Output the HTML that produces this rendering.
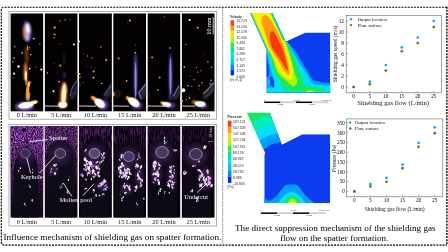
<!DOCTYPE html><html><head><meta charset="utf-8"><title>Graphical abstract</title>
<style>html,body{margin:0;padding:0;background:#fff;overflow:hidden}svg{display:block}</style></head><body>
<svg width="448" height="252" viewBox="0 0 448 252">
<defs>
<filter id="b03" x="-20%" y="-20%" width="140%" height="140%"><feGaussianBlur stdDeviation="0.3"/></filter>
<filter id="b05" x="-30%" y="-30%" width="160%" height="160%"><feGaussianBlur stdDeviation="0.5"/></filter>
<filter id="b08" x="-50%" y="-50%" width="200%" height="200%"><feGaussianBlur stdDeviation="0.8"/></filter>
<filter id="b15" x="-50%" y="-50%" width="200%" height="200%"><feGaussianBlur stdDeviation="1.5"/></filter>
<filter id="b25" x="-50%" y="-50%" width="200%" height="200%"><feGaussianBlur stdDeviation="2.5"/></filter>
<filter id="noise" x="0" y="0" width="100%" height="100%" color-interpolation-filters="sRGB"><feTurbulence type="fractalNoise" baseFrequency="1.1 0.6" numOctaves="2" seed="3" result="t"/><feColorMatrix in="t" type="matrix" values="1.5 0.4 0 0 -0.52  0.8 0.1 0 0 -0.25  1.4 0 0.6 0 -0.47  0 0 0 0 1"/></filter>
<filter id="noise2" x="0" y="0" width="100%" height="100%" color-interpolation-filters="sRGB"><feTurbulence type="fractalNoise" baseFrequency="0.9 0.14" numOctaves="2" seed="11" result="t"/><feColorMatrix in="t" type="matrix" values="2.3 0.5 0 0 -1.00  1.0 0.1 0 0 -0.40  2.1 0 0.9 0 -0.98  0 0 0 0 1"/></filter>
</defs>
<rect width="448" height="252" fill="#fff"/>
<path d="M446.9,7.2 H4.4 Q1.3,7.2 1.3,10.3 V242.0 Q1.3,245.1 4.4,245.1 H446.9" fill="none" stroke="#000" stroke-width="1.15" stroke-dasharray="2 1.1"/>
<line x1="446.9" y1="6.7" x2="446.9" y2="245.6" stroke="#000" stroke-width="1.35" stroke-dasharray="2 1.1"/>
<line x1="222.7" y1="7.8" x2="222.7" y2="244.5" stroke="#444" stroke-width="0.6" stroke-dasharray="1.6 0.7"/>
<rect x="9" y="11.5" width="207.4" height="107.7" fill="#fff" stroke="#8a8a8a" stroke-width="0.7"/>
<rect x="9" y="124.5" width="207.4" height="101.5" fill="#fff" stroke="#8a8a8a" stroke-width="0.7"/>
<clipPath id="ct0"><rect x="10.40" y="13.3" width="33.0" height="98.30"/></clipPath>
<clipPath id="cb0"><rect x="10.40" y="126.0" width="33.0" height="91.80"/></clipPath>
<clipPath id="ct1"><rect x="44.66" y="13.3" width="33.0" height="98.30"/></clipPath>
<clipPath id="cb1"><rect x="44.66" y="126.0" width="33.0" height="91.80"/></clipPath>
<clipPath id="ct2"><rect x="78.92" y="13.3" width="33.0" height="98.30"/></clipPath>
<clipPath id="cb2"><rect x="78.92" y="126.0" width="33.0" height="91.80"/></clipPath>
<clipPath id="ct3"><rect x="113.18" y="13.3" width="33.0" height="98.30"/></clipPath>
<clipPath id="cb3"><rect x="113.18" y="126.0" width="33.0" height="91.80"/></clipPath>
<clipPath id="ct4"><rect x="147.44" y="13.3" width="33.0" height="98.30"/></clipPath>
<clipPath id="cb4"><rect x="147.44" y="126.0" width="33.0" height="91.80"/></clipPath>
<clipPath id="ct5"><rect x="181.70" y="13.3" width="33.0" height="98.30"/></clipPath>
<clipPath id="cb5"><rect x="181.70" y="126.0" width="33.0" height="91.80"/></clipPath>
<g clip-path="url(#ct0)"><rect x="10.4" y="13.3" width="33.0" height="98.30" fill="#030102"/>
<ellipse cx="27.3" cy="31.0" rx="3.6" ry="10" fill="#7a68f0" filter="url(#b15)" opacity="0.9" transform="rotate(-6 27.3 31.0)"/>
<ellipse cx="24.8" cy="33.5" rx="1.4" ry="7" fill="#ff8420" filter="url(#b08)" opacity="1" transform="rotate(-4 24.8 33.5)"/>
<ellipse cx="27.8" cy="28.5" rx="2.3" ry="5.6" fill="#ffffff" filter="url(#b08)" opacity="1" transform="rotate(-8 27.8 28.5)"/>
<ellipse cx="27.3" cy="37.0" rx="1.5" ry="4.5" fill="#d8c8ff" filter="url(#b08)" opacity="1"/>
<ellipse cx="26.6" cy="55.0" rx="1.6" ry="9" fill="#8a3c1a" filter="url(#b08)" opacity="0.95" transform="rotate(-5 26.6 55.0)"/>
<ellipse cx="27.6" cy="48.0" rx="0.8" ry="3" fill="#d07030" filter="url(#b05)" opacity="1"/>
<ellipse cx="26.3" cy="81.0" rx="1.0" ry="5" fill="#ff9a30" filter="url(#b05)" opacity="1" transform="rotate(-8 26.3 81.0)"/>
<ellipse cx="28.6" cy="96.5" rx="1.2" ry="4.5" fill="#ffb040" filter="url(#b05)" opacity="1" transform="rotate(10 28.6 96.5)"/>
<ellipse cx="25.6" cy="72.0" rx="1.7" ry="10" fill="#ff8a20" filter="url(#b08)" opacity="1"/>
<ellipse cx="25.8" cy="75.5" rx="1.1" ry="4.5" fill="#fff2c0" filter="url(#b05)" opacity="1"/>
<ellipse cx="27.6" cy="91.0" rx="1.6" ry="9" fill="#ffa030" filter="url(#b05)" opacity="1" transform="rotate(6 27.6 91.0)"/>
<ellipse cx="29.0" cy="84.0" rx="1.0" ry="3" fill="#ffd080" filter="url(#b05)" opacity="1"/>
<ellipse cx="24.5" cy="106.5" rx="9.5" ry="4.4" fill="#9a70ff" filter="url(#b15)" opacity="0.8"/>
<ellipse cx="31.5" cy="103.0" rx="6" ry="2.0" fill="#ffb848" filter="url(#b05)" opacity="1" transform="rotate(-18 31.5 103.0)"/>
<ellipse cx="26.0" cy="105.3" rx="7.6" ry="3.2" fill="#ffffff" filter="url(#b05)" opacity="1" transform="rotate(-8 26.0 105.3)"/>
<ellipse cx="34.5" cy="102.4" rx="3.2" ry="1.5" fill="#fff0c0" filter="url(#b05)" opacity="1" transform="rotate(-20 34.5 102.4)"/>
<circle cx="33.7" cy="38.6" r="0.9" fill="#ffd060" filter="url(#b05)" opacity="1"/>
<circle cx="39.8" cy="44.1" r="0.7" fill="#c8a070" filter="url(#b05)" opacity="1"/>
<circle cx="14.8" cy="46.7" r="0.8" fill="#ff8a20" filter="url(#b05)" opacity="1"/>
<circle cx="29.7" cy="47.8" r="0.7" fill="#ff8a20" filter="url(#b05)" opacity="1"/>
<circle cx="22.1" cy="53.1" r="0.8" fill="#ffffff" filter="url(#b05)" opacity="1"/>
<circle cx="14.1" cy="58.0" r="0.8" fill="#ffd060" filter="url(#b05)" opacity="1"/>
<circle cx="12.8" cy="61.7" r="0.7" fill="#ff8a20" filter="url(#b05)" opacity="1"/>
<circle cx="30.8" cy="54.8" r="0.8" fill="#ffd060" filter="url(#b05)" opacity="1"/>
<circle cx="18.5" cy="66.5" r="1.2" fill="#ffffff" filter="url(#b05)" opacity="1"/>
<circle cx="29.7" cy="68.6" r="0.9" fill="#ffffff" filter="url(#b05)" opacity="1"/>
<circle cx="35.7" cy="67.0" r="0.6" fill="#c8a070" filter="url(#b05)" opacity="1"/>
<circle cx="41.3" cy="69.4" r="1.0" fill="#ffffff" filter="url(#b05)" opacity="1"/>
<circle cx="14.1" cy="73.7" r="1.1" fill="#ffd8e8" filter="url(#b05)" opacity="1"/>
<circle cx="13.1" cy="77.7" r="0.7" fill="#a04a10" filter="url(#b05)" opacity="1"/>
<circle cx="30.5" cy="82.6" r="0.9" fill="#ff8a20" filter="url(#b05)" opacity="1"/>
</g>
<g clip-path="url(#ct1)"><rect x="44.66" y="13.3" width="33.0" height="98.30" fill="#030102"/>
<path d="M78.5,80 L69.5,96 L72,101 L78.5,92 Z" fill="#26263a" filter="url(#b08)"/>
<path d="M78.3,80 Q72,84 70,96" fill="none" stroke="#56568a" stroke-width="1.1" filter="url(#b05)"/>
<line x1="45" y1="106" x2="61" y2="106.2" stroke="#d8c8d8" stroke-width="1" filter="url(#b05)"/>
<ellipse cx="64.3" cy="58.0" rx="0.9" ry="7" fill="#3a3078" filter="url(#b08)" opacity="0.6"/>
<ellipse cx="64.5" cy="75.0" rx="1.0" ry="3.5" fill="#5a50a8" filter="url(#b08)" opacity="0.7"/>
<ellipse cx="63.6" cy="95.0" rx="3.3" ry="12.5" fill="#ff8a20" filter="url(#b08)" opacity="1" transform="rotate(3 63.6 95.0)"/>
<ellipse cx="65.0" cy="88.0" rx="1.6" ry="6" fill="#ffa030" filter="url(#b05)" opacity="1" transform="rotate(-8 65.0 88.0)"/>
<ellipse cx="63.8" cy="95.0" rx="2.2" ry="10.5" fill="#fff6d0" filter="url(#b05)" opacity="1" transform="rotate(3 63.8 95.0)"/>
<ellipse cx="62.6" cy="104.8" rx="4.8" ry="3.4" fill="#ffb040" filter="url(#b08)" opacity="1"/>
<ellipse cx="62.8" cy="104.8" rx="4.3" ry="3.0" fill="#ffffff" filter="url(#b05)" opacity="1"/>
<circle cx="59.8" cy="20.9" r="0.7" fill="#c8a070" filter="url(#b05)" opacity="1"/>
<circle cx="65.1" cy="20.0" r="0.7" fill="#c8a070" filter="url(#b05)" opacity="1"/>
<circle cx="69.9" cy="19.5" r="0.6" fill="#806848" filter="url(#b05)" opacity="1"/>
<circle cx="54.6" cy="27.4" r="1.2" fill="#ff8a20" filter="url(#b05)" opacity="1"/>
<circle cx="54.6" cy="34.4" r="1.0" fill="#ff8a20" filter="url(#b05)" opacity="1"/>
<circle cx="54.0" cy="37.7" r="0.8" fill="#ff8a20" filter="url(#b05)" opacity="1"/>
<circle cx="59.8" cy="44.1" r="0.7" fill="#a04a10" filter="url(#b05)" opacity="1"/>
<circle cx="73.9" cy="44.6" r="1.0" fill="#fff0b0" filter="url(#b05)" opacity="1"/>
<circle cx="60.3" cy="65.7" r="1.1" fill="#ff8a20" filter="url(#b05)" opacity="1"/>
<circle cx="53.8" cy="63.3" r="0.5" fill="#a04a10" filter="url(#b05)" opacity="1"/>
<circle cx="47.4" cy="72.9" r="0.8" fill="#ff8a20" filter="url(#b05)" opacity="1"/>
<circle cx="57.0" cy="73.7" r="0.5" fill="#a04a10" filter="url(#b05)" opacity="1"/>
<circle cx="59.1" cy="81.8" r="0.8" fill="#fff0b0" filter="url(#b05)" opacity="1"/>
<circle cx="53.5" cy="91.3" r="1.0" fill="#ffffff" filter="url(#b05)" opacity="1"/>
</g>
<g clip-path="url(#ct2)"><rect x="78.92" y="13.3" width="33.0" height="98.30" fill="#030102"/>
<path d="M112.5,82 L103.5,95 L106,100 L112.5,93 Z" fill="#26263a" filter="url(#b08)"/>
<path d="M111,85.5 L104,95.5" stroke="#5a5a8a" stroke-width="1.0" filter="url(#b05)"/>
<line x1="78.5" y1="106" x2="96" y2="106.2" stroke="#d8c8d8" stroke-width="1" filter="url(#b05)"/>
<ellipse cx="103.0" cy="105.0" rx="5" ry="5" fill="#8a60e0" filter="url(#b15)" opacity="0.8"/>
<ellipse cx="94.3" cy="98.8" rx="3.8" ry="2.0" fill="#ffa030" filter="url(#b05)" opacity="1" transform="rotate(35 94.3 98.8)"/>
<ellipse cx="99.6" cy="103.2" rx="6.0" ry="3.9" fill="#ffffff" filter="url(#b05)" opacity="1" transform="rotate(38 99.6 103.2)"/>
<ellipse cx="79.0" cy="84.0" rx="1.5" ry="2.5" fill="#5a3a90" filter="url(#b08)" opacity="0.8"/>
<ellipse cx="110.5" cy="86.0" rx="1.2" ry="2.5" fill="#5a3a90" filter="url(#b08)" opacity="0.7"/>
<circle cx="79.2" cy="41.3" r="0.9" fill="#fff0c0" filter="url(#b05)" opacity="1"/>
<circle cx="100.9" cy="47.0" r="0.8" fill="#ff8a20" filter="url(#b05)" opacity="1"/>
<circle cx="84.0" cy="53.6" r="0.6" fill="#a04a10" filter="url(#b05)" opacity="1"/>
<circle cx="87.6" cy="56.0" r="0.7" fill="#ff8a20" filter="url(#b05)" opacity="1"/>
<circle cx="92.1" cy="58.0" r="0.7" fill="#c8a070" filter="url(#b05)" opacity="1"/>
<circle cx="106.2" cy="60.0" r="1.2" fill="#d06818" filter="url(#b05)" opacity="1"/>
<circle cx="86.0" cy="66.5" r="0.6" fill="#a04a10" filter="url(#b05)" opacity="1"/>
<circle cx="91.3" cy="67.0" r="0.5" fill="#888" filter="url(#b05)" opacity="1"/>
<circle cx="95.0" cy="68.0" r="0.5" fill="#a04a10" filter="url(#b05)" opacity="1"/>
<circle cx="93.7" cy="71.3" r="1.1" fill="#ff8a20" filter="url(#b05)" opacity="1"/>
<circle cx="79.5" cy="74.0" r="1.0" fill="#ffb040" filter="url(#b05)" opacity="1"/>
<circle cx="80.0" cy="77.3" r="0.8" fill="#ff8a20" filter="url(#b05)" opacity="1"/>
<circle cx="93.4" cy="77.7" r="0.9" fill="#ffd060" filter="url(#b05)" opacity="1"/>
<circle cx="101.7" cy="83.4" r="0.7" fill="#ffd8e8" filter="url(#b05)" opacity="1"/>
<circle cx="83.2" cy="82.6" r="0.5" fill="#c8a070" filter="url(#b05)" opacity="1"/>
</g>
<g clip-path="url(#ct3)"><rect x="113.18" y="13.3" width="33.0" height="98.30" fill="#030102"/>
<path d="M146.8,82 L138,93 L141,101 L146.8,95 Z" fill="#26263a" filter="url(#b08)"/>
<path d="M145.8,84.2 L138.8,92.7 L141,98.5" fill="none" stroke="#8078c0" stroke-width="1.1" filter="url(#b05)"/>
<line x1="113" y1="106" x2="129" y2="106.2" stroke="#d8c8d8" stroke-width="1" filter="url(#b05)"/>
<ellipse cx="135.6" cy="76.0" rx="1.5" ry="23" fill="#6254c0" filter="url(#b08)" opacity="1"/>
<ellipse cx="135.6" cy="80.0" rx="0.9" ry="18" fill="#9488e8" filter="url(#b05)" opacity="1"/>
<circle cx="117.2" cy="94" r="2.6" fill="none" stroke="#50301c" stroke-width="1.2" filter="url(#b08)"/>
<ellipse cx="137.0" cy="105.5" rx="5.5" ry="3.5" fill="#8a60e0" filter="url(#b15)" opacity="0.8"/>
<ellipse cx="128.6" cy="98.6" rx="3.2" ry="1.9" fill="#ffa030" filter="url(#b05)" opacity="1" transform="rotate(35 128.6 98.6)"/>
<ellipse cx="133.8" cy="102.2" rx="6.4" ry="3.9" fill="#ffffff" filter="url(#b05)" opacity="1" transform="rotate(35 133.8 102.2)"/>
<ellipse cx="113.6" cy="94.0" rx="0.9" ry="2.2" fill="#ffb860" filter="url(#b05)" opacity="1"/>
<circle cx="129.9" cy="20.5" r="1.0" fill="#ffb040" filter="url(#b05)" opacity="1"/>
<circle cx="127.5" cy="22.5" r="0.5" fill="#a04a10" filter="url(#b05)" opacity="1"/>
<circle cx="135.5" cy="45.0" r="0.9" fill="#30286a" filter="url(#b05)" opacity="1"/>
<circle cx="135.3" cy="52.8" r="0.8" fill="#e8d8ff" filter="url(#b05)" opacity="1"/>
<circle cx="118.6" cy="58.5" r="1.0" fill="#ff8a20" filter="url(#b05)" opacity="1"/>
<circle cx="126.6" cy="81.0" r="0.9" fill="#ff8a20" filter="url(#b05)" opacity="1"/>
</g>
<g clip-path="url(#ct4)"><rect x="147.44" y="13.3" width="33.0" height="98.30" fill="#030102"/>
<path d="M180.5,84 L172.5,97 L175,101 L180.5,95 Z" fill="#26263a" filter="url(#b08)"/>
<path d="M179,85.4 L173.4,96.3" stroke="#7870b8" stroke-width="1.1" filter="url(#b05)"/>
<line x1="147" y1="106" x2="165" y2="106.2" stroke="#d8c8d8" stroke-width="1" filter="url(#b05)"/>
<ellipse cx="170.5" cy="77.0" rx="1.5" ry="24" fill="#6254c0" filter="url(#b08)" opacity="1"/>
<ellipse cx="170.5" cy="76.0" rx="0.9" ry="18" fill="#9488e8" filter="url(#b05)" opacity="1"/>
<ellipse cx="171.0" cy="105.5" rx="4.5" ry="2.8" fill="#8a60e0" filter="url(#b15)" opacity="0.7"/>
<ellipse cx="162.6" cy="103.0" rx="2.4" ry="1.5" fill="#ffa030" filter="url(#b05)" opacity="1" transform="rotate(20 162.6 103.0)"/>
<ellipse cx="166.6" cy="104.4" rx="4.4" ry="2.3" fill="#ffffff" filter="url(#b05)" opacity="1" transform="rotate(12 166.6 104.4)"/>
<path d="M147.5,91 Q150.5,95 148,99" fill="none" stroke="#603018" stroke-width="1" filter="url(#b08)"/>
<circle cx="164.5" cy="16.8" r="0.7" fill="#b04020" filter="url(#b05)" opacity="1"/>
<circle cx="169.8" cy="47.8" r="0.7" fill="#c8a070" filter="url(#b05)" opacity="1"/>
<circle cx="170.1" cy="48.3" r="0.6" fill="#c8a070" filter="url(#b05)" opacity="1"/>
<circle cx="152.1" cy="57.6" r="1.0" fill="#ff8a20" filter="url(#b05)" opacity="1"/>
<circle cx="159.7" cy="77.4" r="0.9" fill="#ff8a20" filter="url(#b05)" opacity="1"/>
<circle cx="158.0" cy="90.0" r="0.7" fill="#ffffff" filter="url(#b05)" opacity="1"/>
</g>
<g clip-path="url(#ct5)"><rect x="181.70" y="13.3" width="33.0" height="98.30" fill="#030102"/>
<path d="M214.8,80 L202,96 L205,100.5 L214.8,91 Z" fill="#282836" filter="url(#b08)"/>
<path d="M214,83 L203.2,94" stroke="#74748a" stroke-width="1.1" filter="url(#b05)"/><path d="M214.5,88 L206,97" stroke="#505064" stroke-width="0.9" filter="url(#b05)"/>
<line x1="181.5" y1="106" x2="195" y2="106.2" stroke="#d8c8d8" stroke-width="1" filter="url(#b05)"/>
<ellipse cx="203.0" cy="106.0" rx="5" ry="2.6" fill="#8a60e0" filter="url(#b15)" opacity="0.6"/>
<ellipse cx="194.6" cy="102.2" rx="2.8" ry="1.6" fill="#ff9a30" filter="url(#b08)" opacity="1" transform="rotate(20 194.6 102.2)"/>
<ellipse cx="200.2" cy="103.9" rx="5.6" ry="3.0" fill="#ffffff" filter="url(#b05)" opacity="1" transform="rotate(5 200.2 103.9)"/>
<circle cx="189.7" cy="20.0" r="1.1" fill="#ffffff" filter="url(#b05)" opacity="1"/>
<circle cx="197.8" cy="27.7" r="0.9" fill="#ffb830" filter="url(#b05)" opacity="1"/>
<circle cx="185.9" cy="44.6" r="0.7" fill="#c8a070" filter="url(#b05)" opacity="1"/>
<circle cx="184.3" cy="67.0" r="0.8" fill="#ffffff" filter="url(#b05)" opacity="1"/>
<circle cx="207.9" cy="62.1" r="0.8" fill="#ff8a20" filter="url(#b05)" opacity="1"/>
<circle cx="211.6" cy="67.3" r="0.8" fill="#ff8a20" filter="url(#b05)" opacity="1"/>
<circle cx="196.6" cy="67.3" r="0.6" fill="#c8a070" filter="url(#b05)" opacity="1"/>
<circle cx="200.7" cy="70.5" r="0.6" fill="#c8a070" filter="url(#b05)" opacity="1"/>
<circle cx="197.8" cy="72.1" r="0.6" fill="#c8a070" filter="url(#b05)" opacity="1"/>
<circle cx="190.2" cy="76.1" r="0.5" fill="#c8a070" filter="url(#b05)" opacity="1"/>
<circle cx="194.2" cy="79.8" r="0.7" fill="#c8a070" filter="url(#b05)" opacity="1"/>
<circle cx="202.0" cy="82.6" r="0.7" fill="#e8d8c0" filter="url(#b05)" opacity="1"/>
<circle cx="211.1" cy="80.2" r="0.7" fill="#ffd060" filter="url(#b05)" opacity="1"/>
<circle cx="188.1" cy="85.8" r="0.7" fill="#e8d8c0" filter="url(#b05)" opacity="1"/>
<circle cx="199.0" cy="85.8" r="0.7" fill="#e8d8c0" filter="url(#b05)" opacity="1"/>
<circle cx="203.0" cy="54.4" r="0.5" fill="#a04a10" filter="url(#b05)" opacity="1"/>
<circle cx="183.3" cy="90.2" r="2.0" fill="#fff0d0" filter="url(#b05)" opacity="1"/>
<circle cx="182.2" cy="101.0" r="1.0" fill="#ff8a20" filter="url(#b05)" opacity="1"/>
<circle cx="191.8" cy="86.5" r="0.6" fill="#c8a070" filter="url(#b05)" opacity="1"/>
<circle cx="189.4" cy="98.0" r="0.7" fill="#ffffff" filter="url(#b05)" opacity="1"/>
<circle cx="186.2" cy="99.7" r="0.6" fill="#c8a070" filter="url(#b05)" opacity="1"/>
<circle cx="199.0" cy="89.2" r="0.6" fill="#a04a10" filter="url(#b05)" opacity="1"/>
<circle cx="201.5" cy="84.0" r="0.5" fill="#a04a10" filter="url(#b05)" opacity="1"/>
<circle cx="210.3" cy="84.0" r="1.2" fill="#5a4890" filter="url(#b05)" opacity="1"/>
<line x1="213.2" y1="17.2" x2="213.2" y2="34.3" stroke="#fff" stroke-width="0.8"/>
<text transform="translate(210.5,26.0) rotate(-90)" text-anchor="middle" font-size="6.2" fill="#fff" font-family="Liberation Serif, serif">10 mm</text>
</g>
<text x="26.9" y="117.4" text-anchor="middle" font-size="6.3" fill="#111" font-family="Liberation Serif, serif">0 L/min</text>
<text x="26.9" y="224.1" text-anchor="middle" font-size="6.3" fill="#111" font-family="Liberation Serif, serif">0 L/min</text>
<text x="61.2" y="117.4" text-anchor="middle" font-size="6.3" fill="#111" font-family="Liberation Serif, serif">5 L/min</text>
<text x="61.2" y="224.1" text-anchor="middle" font-size="6.3" fill="#111" font-family="Liberation Serif, serif">5 L/min</text>
<text x="95.4" y="117.4" text-anchor="middle" font-size="6.3" fill="#111" font-family="Liberation Serif, serif">10 L/min</text>
<text x="95.4" y="224.1" text-anchor="middle" font-size="6.3" fill="#111" font-family="Liberation Serif, serif">10 L/min</text>
<text x="129.7" y="117.4" text-anchor="middle" font-size="6.3" fill="#111" font-family="Liberation Serif, serif">15 L/min</text>
<text x="129.7" y="224.1" text-anchor="middle" font-size="6.3" fill="#111" font-family="Liberation Serif, serif">15 L/min</text>
<text x="163.9" y="117.4" text-anchor="middle" font-size="6.3" fill="#111" font-family="Liberation Serif, serif">20 L/min</text>
<text x="163.9" y="224.1" text-anchor="middle" font-size="6.3" fill="#111" font-family="Liberation Serif, serif">20 L/min</text>
<text x="198.2" y="117.4" text-anchor="middle" font-size="6.3" fill="#111" font-family="Liberation Serif, serif">25 L/min</text>
<text x="198.2" y="224.1" text-anchor="middle" font-size="6.3" fill="#111" font-family="Liberation Serif, serif">25 L/min</text>
<linearGradient id="fade" x1="0" y1="0" x2="0" y2="1"><stop offset="0" stop-color="#fff"/><stop offset="0.2" stop-color="#fff"/><stop offset="0.45" stop-color="#999"/><stop offset="0.7" stop-color="#444"/><stop offset="1" stop-color="#1a1a1a"/></linearGradient>
<mask id="mfade" maskUnits="userSpaceOnUse" x="0" y="126.0" width="230" height="91.8"><rect x="0" y="126.0" width="230" height="91.8" fill="url(#fade)"/></mask>
<g clip-path="url(#cb0)"><rect x="10.40" y="126.0" width="33.0" height="91.80" fill="#050207"/>
<g mask="url(#mfade)"><rect x="10.40" y="126.0" width="33.0" height="91.80" filter="url(#noise)" opacity="0.95"/></g>
<line x1="21.4" y1="171.0" x2="21.4" y2="187.4" stroke="#3a1850" stroke-width="0.6" opacity="0.8"/>
<line x1="13.6" y1="186.4" x2="13.6" y2="198.3" stroke="#3a1850" stroke-width="0.6" opacity="0.8"/>
<line x1="13.2" y1="185.3" x2="13.2" y2="191.9" stroke="#3a1850" stroke-width="0.6" opacity="0.8"/>
<line x1="24.8" y1="167.8" x2="24.8" y2="175.2" stroke="#3a1850" stroke-width="0.6" opacity="0.8"/>
<line x1="24.6" y1="198.1" x2="24.6" y2="206.1" stroke="#3a1850" stroke-width="0.6" opacity="0.8"/>
<line x1="18.3" y1="190.1" x2="18.3" y2="211.3" stroke="#3a1850" stroke-width="0.6" opacity="0.8"/>
<line x1="29.3" y1="180.9" x2="29.3" y2="202.5" stroke="#3a1850" stroke-width="0.6" opacity="0.8"/>
<path d="M13.7,217.8 L13.7,171.5 Q14.2,154.5 27.0,145.5 Q37.2,154.5 37.7,171.5 L37.7,217.8 Z" fill="#0e0714" filter="url(#b05)" opacity="0.9"/>
<ellipse cx="25.4" cy="154.4" rx="9.6" ry="9.6" fill="#3a2252" opacity="0.7" filter="url(#b25)"/>
<ellipse cx="25.4" cy="153.4" rx="4.83" ry="4.37" fill="#3c2e50" stroke="#8070a0" stroke-width="0.8" filter="url(#b03)"/>
<g filter="url(#b03)">
<circle cx="24.1" cy="130" r="2.0" fill="#08040c" filter="url(#b05)"/>
<circle cx="27" cy="142.2" r="1.5" fill="#08040c" filter="url(#b05)"/>
<ellipse cx="18.5" cy="171.1" rx="0.49" ry="0.87" fill="#d898e8" transform="rotate(-32 18.5 171.1)"/>
<ellipse cx="18.8" cy="171.3" rx="0.41" ry="0.86" fill="#ffffff" transform="rotate(6 18.8 171.3)"/>
<ellipse cx="20.6" cy="168.4" rx="0.61" ry="0.69" fill="#ffffff" transform="rotate(29 20.6 168.4)"/>
<ellipse cx="20.4" cy="167.9" rx="0.49" ry="0.84" fill="#f4d8ff" transform="rotate(23 20.4 167.9)"/>
<ellipse cx="19.6" cy="169.6" rx="0.32" ry="0.74" fill="#f4d8ff" transform="rotate(-35 19.6 169.6)"/>
<ellipse cx="32.5" cy="169.3" rx="0.60" ry="0.64" fill="#d898e8" transform="rotate(-15 32.5 169.3)"/>
<ellipse cx="32.7" cy="172.5" rx="0.45" ry="0.97" fill="#ffffff" transform="rotate(23 32.7 172.5)"/>
<ellipse cx="29.7" cy="186.0" rx="0.52" ry="0.37" fill="#ffe8ff" transform="rotate(-14 29.7 186.0)"/>
<ellipse cx="30.3" cy="186.3" rx="0.36" ry="0.62" fill="#d898e8" transform="rotate(-25 30.3 186.3)"/>
<ellipse cx="29.9" cy="187.2" rx="0.31" ry="0.77" fill="#e0a8f0" transform="rotate(-22 29.9 187.2)"/>
<ellipse cx="30.2" cy="186.9" rx="0.53" ry="0.70" fill="#ffffff" transform="rotate(-35 30.2 186.9)"/>
<ellipse cx="29.1" cy="185.1" rx="0.36" ry="0.80" fill="#e0a8f0" transform="rotate(-32 29.1 185.1)"/>
<ellipse cx="32.1" cy="199.9" rx="0.33" ry="1.15" fill="#e0a8f0" transform="rotate(15 32.1 199.9)"/>
<ellipse cx="32.4" cy="200.2" rx="0.59" ry="1.24" fill="#d898e8" transform="rotate(30 32.4 200.2)"/>
<ellipse cx="32.1" cy="200.6" rx="0.35" ry="1.27" fill="#ffe8ff" transform="rotate(-34 32.1 200.6)"/>
<ellipse cx="24.5" cy="203.8" rx="0.62" ry="0.92" fill="#ffffff" transform="rotate(37 24.5 203.8)"/>
<ellipse cx="25.9" cy="205.2" rx="0.45" ry="0.46" fill="#ffe8ff" transform="rotate(49 25.9 205.2)"/>
<ellipse cx="25.0" cy="204.9" rx="0.31" ry="0.45" fill="#f4d8ff" transform="rotate(24 25.0 204.9)"/>
</g>
</g>
<g clip-path="url(#cb1)"><rect x="44.66" y="126.0" width="33.0" height="91.80" fill="#050207"/>
<g mask="url(#mfade)"><rect x="44.66" y="126.0" width="33.0" height="91.80" filter="url(#noise)" opacity="0.68"/></g>
<line x1="60.5" y1="192.7" x2="60.5" y2="206.9" stroke="#3a1850" stroke-width="0.6" opacity="0.8"/>
<line x1="52.0" y1="203.1" x2="52.0" y2="214.9" stroke="#3a1850" stroke-width="0.6" opacity="0.8"/>
<line x1="67.1" y1="201.6" x2="67.1" y2="219.7" stroke="#3a1850" stroke-width="0.6" opacity="0.8"/>
<line x1="54.9" y1="190.7" x2="54.9" y2="198.2" stroke="#3a1850" stroke-width="0.6" opacity="0.8"/>
<line x1="71.9" y1="185.7" x2="71.9" y2="206.3" stroke="#3a1850" stroke-width="0.6" opacity="0.8"/>
<line x1="56.7" y1="173.9" x2="56.7" y2="188.6" stroke="#3a1850" stroke-width="0.6" opacity="0.8"/>
<line x1="61.2" y1="190.5" x2="61.2" y2="206.3" stroke="#3a1850" stroke-width="0.6" opacity="0.8"/>
<path d="M46.5,217.8 L46.5,160.0 C46.5,147.0 52.8,140.0 60.5,140.0 C68.2,140.0 74.5,147.0 74.5,160.0 L74.5,217.8 Z" fill="#0e0714" filter="url(#b08)" opacity="0.9"/>
<ellipse cx="60.3" cy="154.4" rx="10.0" ry="10.0" fill="#3a2252" opacity="0.7" filter="url(#b25)"/>
<ellipse cx="60.3" cy="153.4" rx="5.25" ry="4.75" fill="#3e3056" stroke="#a090b8" stroke-width="0.8" filter="url(#b03)"/>
<g filter="url(#b03)">
<ellipse cx="53.0" cy="169.5" rx="4.5" ry="6.5" fill="#7a3a98" opacity="0.35" filter="url(#b15)"/>
<ellipse cx="55.6" cy="173.1" rx="0.62" ry="0.64" fill="#e0a8f0" transform="rotate(-1 55.6 173.1)"/>
<ellipse cx="55.5" cy="173.5" rx="0.64" ry="0.89" fill="#ffffff" transform="rotate(19 55.5 173.5)"/>
<ellipse cx="57.1" cy="168.6" rx="0.41" ry="0.64" fill="#ffffff" transform="rotate(-16 57.1 168.6)"/>
<ellipse cx="56.2" cy="170.1" rx="0.56" ry="0.40" fill="#d898e8" transform="rotate(-16 56.2 170.1)"/>
<ellipse cx="54.8" cy="173.9" rx="0.62" ry="0.90" fill="#ffffff" transform="rotate(-7 54.8 173.9)"/>
<ellipse cx="53.9" cy="165.5" rx="0.35" ry="0.57" fill="#ffffff" transform="rotate(-47 53.9 165.5)"/>
<ellipse cx="54.1" cy="164.9" rx="0.58" ry="1.04" fill="#e0a8f0" transform="rotate(48 54.1 164.9)"/>
<ellipse cx="54.3" cy="164.6" rx="0.54" ry="0.54" fill="#ffffff" transform="rotate(30 54.3 164.6)"/>
<ellipse cx="54.5" cy="166.0" rx="0.65" ry="0.62" fill="#f4d8ff" transform="rotate(-29 54.5 166.0)"/>
<ellipse cx="54.6" cy="165.8" rx="0.45" ry="0.97" fill="#ffffff" transform="rotate(-44 54.6 165.8)"/>
<ellipse cx="55.3" cy="174.8" rx="0.37" ry="0.56" fill="#e0a8f0" transform="rotate(-48 55.3 174.8)"/>
<ellipse cx="54.6" cy="173.1" rx="0.32" ry="1.23" fill="#ffffff" transform="rotate(-36 54.6 173.1)"/>
<ellipse cx="54.9" cy="173.0" rx="0.34" ry="1.11" fill="#e0a8f0" transform="rotate(6 54.9 173.0)"/>
<ellipse cx="54.5" cy="164.6" rx="0.63" ry="0.93" fill="#e0a8f0" transform="rotate(-47 54.5 164.6)"/>
<ellipse cx="56.0" cy="164.7" rx="0.52" ry="1.12" fill="#ffe8ff" transform="rotate(1 56.0 164.7)"/>
<ellipse cx="56.4" cy="164.7" rx="0.42" ry="0.94" fill="#f4d8ff" transform="rotate(42 56.4 164.7)"/>
<ellipse cx="55.0" cy="165.3" rx="0.50" ry="0.48" fill="#ffffff" transform="rotate(-7 55.0 165.3)"/>
<ellipse cx="55.2" cy="165.8" rx="0.37" ry="1.21" fill="#d898e8" transform="rotate(14 55.2 165.8)"/>
<ellipse cx="55.5" cy="165.6" rx="0.37" ry="0.89" fill="#d898e8" transform="rotate(45 55.5 165.6)"/>
<ellipse cx="51.6" cy="169.2" rx="0.53" ry="0.75" fill="#ffffff" transform="rotate(-14 51.6 169.2)"/>
<ellipse cx="51.5" cy="169.0" rx="0.46" ry="0.88" fill="#d898e8" transform="rotate(-48 51.5 169.0)"/>
<ellipse cx="51.0" cy="171.9" rx="0.41" ry="1.31" fill="#ffffff" transform="rotate(-23 51.0 171.9)"/>
<ellipse cx="68.6" cy="180.1" rx="0.59" ry="0.99" fill="#f4d8ff" transform="rotate(-9 68.6 180.1)"/>
<ellipse cx="68.2" cy="179.4" rx="0.48" ry="0.69" fill="#f4d8ff" transform="rotate(-44 68.2 179.4)"/>
<ellipse cx="69.6" cy="177.1" rx="0.35" ry="0.63" fill="#e0a8f0" transform="rotate(36 69.6 177.1)"/>
<ellipse cx="60.2" cy="187.8" rx="0.45" ry="1.21" fill="#e0a8f0" transform="rotate(-37 60.2 187.8)"/>
<ellipse cx="61.2" cy="186.0" rx="0.36" ry="0.54" fill="#ffffff" transform="rotate(-32 61.2 186.0)"/>
<ellipse cx="62.0" cy="186.9" rx="0.49" ry="0.58" fill="#ffe8ff" transform="rotate(0 62.0 186.9)"/>
<ellipse cx="62.3" cy="183.9" rx="0.33" ry="0.84" fill="#ffffff" transform="rotate(1 62.3 183.9)"/>
<ellipse cx="67.3" cy="192.3" rx="0.60" ry="1.25" fill="#f4d8ff" transform="rotate(19 67.3 192.3)"/>
<ellipse cx="67.9" cy="191.9" rx="0.59" ry="1.02" fill="#d898e8" transform="rotate(-36 67.9 191.9)"/>
<ellipse cx="68.0" cy="193.4" rx="0.59" ry="0.41" fill="#d898e8" transform="rotate(24 68.0 193.4)"/>
<ellipse cx="67.4" cy="190.5" rx="0.48" ry="1.25" fill="#e0a8f0" transform="rotate(-26 67.4 190.5)"/>
</g>
</g>
<g clip-path="url(#cb2)"><rect x="78.92" y="126.0" width="33.0" height="91.80" fill="#050207"/>
<g mask="url(#mfade)"><rect x="78.92" y="126.0" width="33.0" height="91.80" filter="url(#noise2)" opacity="0.36"/></g>
<line x1="89.0" y1="183.4" x2="89.0" y2="191.9" stroke="#3a1850" stroke-width="0.6" opacity="0.8"/>
<line x1="93.7" y1="175.5" x2="93.7" y2="196.9" stroke="#3a1850" stroke-width="0.6" opacity="0.8"/>
<line x1="110.1" y1="186.9" x2="110.1" y2="196.8" stroke="#3a1850" stroke-width="0.6" opacity="0.8"/>
<line x1="109.9" y1="177.4" x2="109.9" y2="189.1" stroke="#3a1850" stroke-width="0.6" opacity="0.8"/>
<line x1="80.0" y1="180.3" x2="80.0" y2="193.9" stroke="#3a1850" stroke-width="0.6" opacity="0.8"/>
<line x1="95.5" y1="173.0" x2="95.5" y2="187.1" stroke="#3a1850" stroke-width="0.6" opacity="0.8"/>
<line x1="80.1" y1="175.6" x2="80.1" y2="183.0" stroke="#3a1850" stroke-width="0.6" opacity="0.8"/>
<path d="M80.5,217.8 L80.5,158.0 C80.5,145.0 87.0,138.0 95.0,138.0 C103.0,138.0 109.5,145.0 109.5,158.0 L109.5,217.8 Z" fill="#0e0714" filter="url(#b08)" opacity="0.9"/>
<ellipse cx="94.5" cy="154.4" rx="10.2" ry="10.2" fill="#3a2252" opacity="0.7" filter="url(#b25)"/>
<ellipse cx="94.5" cy="153.4" rx="5.46" ry="4.94" fill="#584674" stroke="#b8a8d0" stroke-width="0.8" filter="url(#b03)"/>
<g filter="url(#b03)">
<ellipse cx="85.2" cy="150.8" rx="0.43" ry="1.55" fill="#ffffff" transform="rotate(16 85.2 150.8)"/>
<ellipse cx="87.4" cy="161.1" rx="0.60" ry="0.81" fill="#e0a8f0" transform="rotate(14 87.4 161.1)"/>
<ellipse cx="86.0" cy="161.4" rx="0.76" ry="1.19" fill="#d898e8" transform="rotate(20 86.0 161.4)"/>
<ellipse cx="86.9" cy="161.5" rx="0.70" ry="1.13" fill="#ffffff" transform="rotate(33 86.9 161.5)"/>
<ellipse cx="85.5" cy="159.6" rx="0.65" ry="1.56" fill="#ffe8ff" transform="rotate(34 85.5 159.6)"/>
<ellipse cx="86.5" cy="161.0" rx="0.65" ry="1.25" fill="#ffe8ff" transform="rotate(-24 86.5 161.0)"/>
<ellipse cx="86.1" cy="149.8" rx="0.69" ry="0.78" fill="#ffffff" transform="rotate(35 86.1 149.8)"/>
<ellipse cx="85.4" cy="160.2" rx="0.60" ry="0.92" fill="#ffe8ff" transform="rotate(41 85.4 160.2)"/>
<ellipse cx="84.5" cy="158.0" rx="0.65" ry="0.72" fill="#e0a8f0" transform="rotate(-35 84.5 158.0)"/>
<ellipse cx="85.3" cy="158.0" rx="0.59" ry="1.03" fill="#d898e8" transform="rotate(-40 85.3 158.0)"/>
<ellipse cx="84.5" cy="158.9" rx="0.68" ry="0.81" fill="#ffe8ff" transform="rotate(-3 84.5 158.9)"/>
<ellipse cx="84.1" cy="159.7" rx="0.59" ry="0.82" fill="#ffffff" transform="rotate(32 84.1 159.7)"/>
<ellipse cx="85.4" cy="160.6" rx="0.51" ry="0.73" fill="#ffffff" transform="rotate(-43 85.4 160.6)"/>
<ellipse cx="101.4" cy="161.8" rx="0.73" ry="1.06" fill="#ffffff" transform="rotate(20 101.4 161.8)"/>
<ellipse cx="99.9" cy="163.7" rx="0.59" ry="0.53" fill="#ffffff" transform="rotate(45 99.9 163.7)"/>
<ellipse cx="103.2" cy="158.0" rx="0.45" ry="0.86" fill="#f4d8ff" transform="rotate(25 103.2 158.0)"/>
<ellipse cx="104.1" cy="157.4" rx="0.77" ry="1.28" fill="#d898e8" transform="rotate(-21 104.1 157.4)"/>
<ellipse cx="101.6" cy="157.9" rx="0.51" ry="0.55" fill="#ffffff" transform="rotate(-45 101.6 157.9)"/>
<ellipse cx="102.8" cy="160.7" rx="0.60" ry="0.71" fill="#f4d8ff" transform="rotate(29 102.8 160.7)"/>
<ellipse cx="103.2" cy="160.1" rx="0.70" ry="0.94" fill="#e0a8f0" transform="rotate(5 103.2 160.1)"/>
<ellipse cx="103.5" cy="154.2" rx="0.66" ry="0.81" fill="#ffffff" transform="rotate(41 103.5 154.2)"/>
<ellipse cx="103.7" cy="152.9" rx="0.57" ry="0.81" fill="#f4d8ff" transform="rotate(24 103.7 152.9)"/>
<ellipse cx="104.6" cy="153.1" rx="0.66" ry="0.83" fill="#e0a8f0" transform="rotate(17 104.6 153.1)"/>
<ellipse cx="100.0" cy="162.3" rx="0.60" ry="0.74" fill="#f4d8ff" transform="rotate(50 100.0 162.3)"/>
<ellipse cx="101.7" cy="154.0" rx="0.62" ry="0.85" fill="#f4d8ff" transform="rotate(-24 101.7 154.0)"/>
<ellipse cx="102.4" cy="155.7" rx="0.70" ry="0.95" fill="#ffe8ff" transform="rotate(25 102.4 155.7)"/>
<ellipse cx="85.7" cy="167.0" rx="0.57" ry="1.37" fill="#e0a8f0" transform="rotate(13 85.7 167.0)"/>
<ellipse cx="91.7" cy="165.6" rx="0.71" ry="1.04" fill="#f4d8ff" transform="rotate(35 91.7 165.6)"/>
<ellipse cx="91.6" cy="164.7" rx="0.42" ry="1.39" fill="#ffe8ff" transform="rotate(47 91.6 164.7)"/>
<ellipse cx="88.9" cy="162.7" rx="0.45" ry="0.69" fill="#e0a8f0" transform="rotate(47 88.9 162.7)"/>
<ellipse cx="87.1" cy="164.1" rx="0.74" ry="1.57" fill="#ffe8ff" transform="rotate(-41 87.1 164.1)"/>
<ellipse cx="88.5" cy="162.1" rx="0.46" ry="1.22" fill="#ffffff" transform="rotate(15 88.5 162.1)"/>
<ellipse cx="86.5" cy="164.2" rx="0.77" ry="0.63" fill="#f4d8ff" transform="rotate(2 86.5 164.2)"/>
<ellipse cx="86.6" cy="164.0" rx="0.51" ry="1.26" fill="#ffffff" transform="rotate(4 86.6 164.0)"/>
<ellipse cx="92.3" cy="167.9" rx="0.63" ry="0.80" fill="#ffffff" transform="rotate(-47 92.3 167.9)"/>
<ellipse cx="91.8" cy="167.4" rx="0.43" ry="0.74" fill="#d898e8" transform="rotate(15 91.8 167.4)"/>
<ellipse cx="85.5" cy="165.4" rx="0.42" ry="0.93" fill="#ffe8ff" transform="rotate(-14 85.5 165.4)"/>
<ellipse cx="84.4" cy="164.9" rx="0.54" ry="1.56" fill="#ffffff" transform="rotate(-29 84.4 164.9)"/>
<ellipse cx="85.6" cy="165.6" rx="0.79" ry="0.79" fill="#ffffff" transform="rotate(-23 85.6 165.6)"/>
<ellipse cx="91.3" cy="164.9" rx="0.63" ry="1.65" fill="#ffffff" transform="rotate(45 91.3 164.9)"/>
<ellipse cx="90.4" cy="163.7" rx="0.50" ry="1.73" fill="#ffffff" transform="rotate(-8 90.4 163.7)"/>
<ellipse cx="91.5" cy="163.2" rx="0.62" ry="1.40" fill="#f4d8ff" transform="rotate(23 91.5 163.2)"/>
<ellipse cx="91.4" cy="179.1" rx="0.65" ry="1.09" fill="#f4d8ff" transform="rotate(16 91.4 179.1)"/>
<ellipse cx="91.7" cy="178.5" rx="0.56" ry="0.71" fill="#ffffff" transform="rotate(-42 91.7 178.5)"/>
<ellipse cx="92.5" cy="169.0" rx="7.5" ry="8.0" fill="#7a3a98" opacity="0.35" filter="url(#b15)"/>
<ellipse cx="87.2" cy="168.5" rx="0.64" ry="1.71" fill="#f4d8ff" transform="rotate(32 87.2 168.5)"/>
<ellipse cx="91.0" cy="162.8" rx="0.69" ry="1.01" fill="#d898e8" transform="rotate(40 91.0 162.8)"/>
<ellipse cx="90.7" cy="162.5" rx="0.92" ry="1.71" fill="#ffffff" transform="rotate(-12 90.7 162.5)"/>
<ellipse cx="91.5" cy="163.4" rx="0.44" ry="0.81" fill="#ffffff" transform="rotate(40 91.5 163.4)"/>
<ellipse cx="89.9" cy="166.3" rx="0.60" ry="0.94" fill="#ffffff" transform="rotate(22 89.9 166.3)"/>
<ellipse cx="92.8" cy="172.6" rx="0.70" ry="2.01" fill="#ffe8ff" transform="rotate(29 92.8 172.6)"/>
<ellipse cx="98.7" cy="172.6" rx="0.91" ry="1.67" fill="#d898e8" transform="rotate(27 98.7 172.6)"/>
<ellipse cx="98.1" cy="173.0" rx="0.60" ry="1.07" fill="#e0a8f0" transform="rotate(-42 98.1 173.0)"/>
<ellipse cx="88.4" cy="172.9" rx="0.71" ry="1.36" fill="#ffffff" transform="rotate(48 88.4 172.9)"/>
<ellipse cx="89.3" cy="173.7" rx="0.57" ry="0.63" fill="#ffffff" transform="rotate(-8 89.3 173.7)"/>
<ellipse cx="98.3" cy="175.4" rx="0.80" ry="1.57" fill="#d898e8" transform="rotate(4 98.3 175.4)"/>
<ellipse cx="99.4" cy="176.2" rx="0.90" ry="0.96" fill="#f4d8ff" transform="rotate(7 99.4 176.2)"/>
<ellipse cx="90.7" cy="171.6" rx="0.55" ry="0.94" fill="#e0a8f0" transform="rotate(-31 90.7 171.6)"/>
<ellipse cx="90.0" cy="171.7" rx="0.56" ry="1.33" fill="#d898e8" transform="rotate(31 90.0 171.7)"/>
<ellipse cx="93.5" cy="176.8" rx="0.55" ry="1.21" fill="#f4d8ff" transform="rotate(-46 93.5 176.8)"/>
<ellipse cx="90.0" cy="164.5" rx="0.52" ry="0.62" fill="#e0a8f0" transform="rotate(37 90.0 164.5)"/>
<ellipse cx="89.7" cy="163.1" rx="0.90" ry="1.99" fill="#ffffff" transform="rotate(14 89.7 163.1)"/>
<ellipse cx="95.0" cy="166.0" rx="0.53" ry="0.90" fill="#e0a8f0" transform="rotate(23 95.0 166.0)"/>
<ellipse cx="97.7" cy="173.1" rx="0.80" ry="0.62" fill="#ffffff" transform="rotate(30 97.7 173.1)"/>
<ellipse cx="98.0" cy="172.4" rx="0.46" ry="1.12" fill="#e0a8f0" transform="rotate(-35 98.0 172.4)"/>
<ellipse cx="93.3" cy="170.9" rx="0.58" ry="0.99" fill="#ffffff" transform="rotate(-19 93.3 170.9)"/>
<ellipse cx="93.1" cy="170.8" rx="0.67" ry="1.87" fill="#f4d8ff" transform="rotate(14 93.1 170.8)"/>
<ellipse cx="92.7" cy="170.9" rx="1.00" ry="1.19" fill="#ffffff" transform="rotate(-8 92.7 170.9)"/>
<ellipse cx="96.6" cy="166.9" rx="0.41" ry="1.37" fill="#d898e8" transform="rotate(31 96.6 166.9)"/>
<ellipse cx="96.5" cy="167.9" rx="0.99" ry="1.66" fill="#ffffff" transform="rotate(-35 96.5 167.9)"/>
<ellipse cx="88.9" cy="169.3" rx="0.92" ry="2.03" fill="#ffffff" transform="rotate(-20 88.9 169.3)"/>
<ellipse cx="96.5" cy="162.9" rx="0.81" ry="0.64" fill="#d898e8" transform="rotate(12 96.5 162.9)"/>
<ellipse cx="97.5" cy="161.8" rx="0.90" ry="0.85" fill="#ffe8ff" transform="rotate(11 97.5 161.8)"/>
<ellipse cx="96.3" cy="162.5" rx="0.76" ry="0.57" fill="#e0a8f0" transform="rotate(-34 96.3 162.5)"/>
<ellipse cx="89.8" cy="164.2" rx="0.88" ry="0.56" fill="#f4d8ff" transform="rotate(-38 89.8 164.2)"/>
<ellipse cx="90.9" cy="164.2" rx="0.80" ry="0.98" fill="#ffe8ff" transform="rotate(-19 90.9 164.2)"/>
<ellipse cx="89.1" cy="167.3" rx="0.41" ry="1.48" fill="#ffe8ff" transform="rotate(-3 89.1 167.3)"/>
<ellipse cx="89.1" cy="167.7" rx="0.92" ry="1.82" fill="#ffe8ff" transform="rotate(-10 89.1 167.7)"/>
<ellipse cx="86.1" cy="166.9" rx="0.73" ry="0.56" fill="#d898e8" transform="rotate(-37 86.1 166.9)"/>
<ellipse cx="87.7" cy="166.6" rx="0.86" ry="0.63" fill="#e0a8f0" transform="rotate(39 87.7 166.6)"/>
<ellipse cx="95.2" cy="174.2" rx="0.87" ry="1.79" fill="#ffffff" transform="rotate(-37 95.2 174.2)"/>
<ellipse cx="97.9" cy="166.6" rx="0.54" ry="1.82" fill="#e0a8f0" transform="rotate(26 97.9 166.6)"/>
<ellipse cx="96.8" cy="167.0" rx="0.58" ry="1.79" fill="#ffffff" transform="rotate(-25 96.8 167.0)"/>
<ellipse cx="98.8" cy="168.1" rx="0.64" ry="0.81" fill="#ffe8ff" transform="rotate(-34 98.8 168.1)"/>
<ellipse cx="99.4" cy="169.2" rx="0.97" ry="0.77" fill="#f4d8ff" transform="rotate(-38 99.4 169.2)"/>
<ellipse cx="93.8" cy="170.8" rx="0.73" ry="1.59" fill="#ffffff" transform="rotate(-25 93.8 170.8)"/>
<ellipse cx="93.0" cy="171.8" rx="0.87" ry="1.09" fill="#ffe8ff" transform="rotate(49 93.0 171.8)"/>
<ellipse cx="93.4" cy="166.3" rx="0.88" ry="0.58" fill="#e0a8f0" transform="rotate(-25 93.4 166.3)"/>
<ellipse cx="94.8" cy="176.4" rx="0.54" ry="0.96" fill="#d898e8" transform="rotate(-7 94.8 176.4)"/>
<ellipse cx="94.3" cy="176.7" rx="0.48" ry="0.86" fill="#d898e8" transform="rotate(-45 94.3 176.7)"/>
<ellipse cx="85.9" cy="169.6" rx="0.54" ry="1.42" fill="#e0a8f0" transform="rotate(-37 85.9 169.6)"/>
<ellipse cx="86.4" cy="170.7" rx="0.50" ry="0.52" fill="#ffffff" transform="rotate(21 86.4 170.7)"/>
<ellipse cx="102.5" cy="185.5" rx="5.5" ry="5.5" fill="#7a3a98" opacity="0.35" filter="url(#b15)"/>
<ellipse cx="102.8" cy="182.3" rx="0.63" ry="0.88" fill="#ffffff" transform="rotate(-44 102.8 182.3)"/>
<ellipse cx="102.7" cy="182.5" rx="0.73" ry="1.32" fill="#e0a8f0" transform="rotate(44 102.7 182.5)"/>
<ellipse cx="103.7" cy="183.3" rx="0.63" ry="0.84" fill="#ffffff" transform="rotate(41 103.7 183.3)"/>
<ellipse cx="98.2" cy="185.8" rx="0.74" ry="1.22" fill="#d898e8" transform="rotate(-8 98.2 185.8)"/>
<ellipse cx="99.2" cy="186.5" rx="0.44" ry="1.39" fill="#d898e8" transform="rotate(28 99.2 186.5)"/>
<ellipse cx="104.9" cy="181.0" rx="0.82" ry="1.14" fill="#ffffff" transform="rotate(50 104.9 181.0)"/>
<ellipse cx="104.0" cy="181.4" rx="0.47" ry="1.77" fill="#d898e8" transform="rotate(44 104.0 181.4)"/>
<ellipse cx="104.0" cy="180.0" rx="0.76" ry="1.46" fill="#d898e8" transform="rotate(29 104.0 180.0)"/>
<ellipse cx="101.9" cy="183.4" rx="0.50" ry="1.78" fill="#d898e8" transform="rotate(-30 101.9 183.4)"/>
<ellipse cx="102.0" cy="184.4" rx="0.51" ry="1.05" fill="#e0a8f0" transform="rotate(-26 102.0 184.4)"/>
<ellipse cx="106.1" cy="186.7" rx="0.40" ry="0.54" fill="#d898e8" transform="rotate(-27 106.1 186.7)"/>
<ellipse cx="106.9" cy="187.4" rx="0.62" ry="1.33" fill="#e0a8f0" transform="rotate(41 106.9 187.4)"/>
<ellipse cx="105.5" cy="185.5" rx="0.46" ry="1.82" fill="#f4d8ff" transform="rotate(48 105.5 185.5)"/>
<ellipse cx="104.7" cy="181.6" rx="0.79" ry="1.55" fill="#ffffff" transform="rotate(36 104.7 181.6)"/>
<ellipse cx="104.8" cy="180.6" rx="0.93" ry="1.26" fill="#d898e8" transform="rotate(-43 104.8 180.6)"/>
<ellipse cx="105.0" cy="188.5" rx="0.46" ry="0.55" fill="#d898e8" transform="rotate(-41 105.0 188.5)"/>
<ellipse cx="106.3" cy="189.5" rx="0.67" ry="0.69" fill="#d898e8" transform="rotate(-30 106.3 189.5)"/>
<ellipse cx="105.4" cy="189.0" rx="0.41" ry="0.86" fill="#f4d8ff" transform="rotate(-45 105.4 189.0)"/>
<ellipse cx="105.5" cy="189.5" rx="0.42" ry="1.09" fill="#ffe8ff" transform="rotate(2 105.5 189.5)"/>
<ellipse cx="104.0" cy="189.1" rx="0.43" ry="1.30" fill="#d898e8" transform="rotate(36 104.0 189.1)"/>
<ellipse cx="104.0" cy="190.0" rx="0.50" ry="0.50" fill="#ffffff" transform="rotate(-21 104.0 190.0)"/>
<ellipse cx="104.7" cy="181.5" rx="0.85" ry="0.76" fill="#ffe8ff" transform="rotate(9 104.7 181.5)"/>
<ellipse cx="105.7" cy="181.5" rx="0.72" ry="0.73" fill="#ffffff" transform="rotate(44 105.7 181.5)"/>
<ellipse cx="100.1" cy="183.7" rx="0.71" ry="0.65" fill="#f4d8ff" transform="rotate(-14 100.1 183.7)"/>
<ellipse cx="101.5" cy="184.9" rx="0.61" ry="0.93" fill="#ffe8ff" transform="rotate(40 101.5 184.9)"/>
<ellipse cx="103.4" cy="183.5" rx="0.73" ry="1.48" fill="#e0a8f0" transform="rotate(15 103.4 183.5)"/>
<ellipse cx="102.2" cy="184.0" rx="0.49" ry="1.70" fill="#d898e8" transform="rotate(5 102.2 184.0)"/>
<ellipse cx="101.1" cy="184.3" rx="0.66" ry="1.76" fill="#ffffff" transform="rotate(1 101.1 184.3)"/>
<ellipse cx="100.4" cy="185.8" rx="0.86" ry="1.38" fill="#d898e8" transform="rotate(-34 100.4 185.8)"/>
<ellipse cx="82.8" cy="176.1" rx="0.40" ry="1.41" fill="#d898e8" transform="rotate(49 82.8 176.1)"/>
<ellipse cx="82.8" cy="176.9" rx="0.40" ry="0.56" fill="#ffffff" transform="rotate(29 82.8 176.9)"/>
<ellipse cx="85.6" cy="179.7" rx="0.43" ry="1.32" fill="#ffe8ff" transform="rotate(-47 85.6 179.7)"/>
<ellipse cx="86.2" cy="179.4" rx="0.60" ry="0.92" fill="#d898e8" transform="rotate(-20 86.2 179.4)"/>
<ellipse cx="81.1" cy="174.5" rx="0.66" ry="1.13" fill="#e0a8f0" transform="rotate(25 81.1 174.5)"/>
<ellipse cx="82.0" cy="174.5" rx="0.61" ry="1.32" fill="#d898e8" transform="rotate(20 82.0 174.5)"/>
<ellipse cx="82.8" cy="175.6" rx="0.58" ry="0.87" fill="#f4d8ff" transform="rotate(-24 82.8 175.6)"/>
<ellipse cx="86.8" cy="188.4" rx="0.57" ry="0.66" fill="#ffe8ff" transform="rotate(-2 86.8 188.4)"/>
<ellipse cx="85.2" cy="188.8" rx="0.53" ry="1.09" fill="#ffffff" transform="rotate(39 85.2 188.8)"/>
<ellipse cx="84.8" cy="169.3" rx="0.42" ry="0.63" fill="#d898e8" transform="rotate(28 84.8 169.3)"/>
<ellipse cx="84.8" cy="170.3" rx="0.36" ry="1.00" fill="#e0a8f0" transform="rotate(-30 84.8 170.3)"/>
<ellipse cx="83.9" cy="169.1" rx="0.64" ry="0.78" fill="#f4d8ff" transform="rotate(-9 83.9 169.1)"/>
<ellipse cx="87.5" cy="174.8" rx="0.37" ry="1.42" fill="#f4d8ff" transform="rotate(14 87.5 174.8)"/>
<ellipse cx="87.2" cy="173.9" rx="0.34" ry="0.48" fill="#ffe8ff" transform="rotate(13 87.2 173.9)"/>
<ellipse cx="99.5" cy="195.5" rx="0.70" ry="0.95" fill="#ffffff" transform="rotate(49 99.5 195.5)"/>
<ellipse cx="102.8" cy="194.2" rx="0.64" ry="1.06" fill="#ffe8ff" transform="rotate(14 102.8 194.2)"/>
<ellipse cx="104.0" cy="194.3" rx="0.38" ry="1.09" fill="#ffe8ff" transform="rotate(-3 104.0 194.3)"/>
<ellipse cx="96.1" cy="194.5" rx="0.63" ry="0.64" fill="#d898e8" transform="rotate(-12 96.1 194.5)"/>
<ellipse cx="95.0" cy="194.4" rx="0.39" ry="0.40" fill="#d898e8" transform="rotate(30 95.0 194.4)"/>
<ellipse cx="96.3" cy="195.7" rx="0.57" ry="1.09" fill="#f4d8ff" transform="rotate(-35 96.3 195.7)"/>
<ellipse cx="95.9" cy="195.6" rx="0.35" ry="0.99" fill="#f4d8ff" transform="rotate(28 95.9 195.6)"/>
<ellipse cx="94.0" cy="197.3" rx="0.35" ry="0.70" fill="#e0a8f0" transform="rotate(-40 94.0 197.3)"/>
<ellipse cx="93.4" cy="190.0" rx="0.68" ry="1.22" fill="#ffffff" transform="rotate(11 93.4 190.0)"/>
<ellipse cx="94.1" cy="191.9" rx="0.36" ry="1.34" fill="#e0a8f0" transform="rotate(29 94.1 191.9)"/>
<ellipse cx="94.4" cy="190.1" rx="0.60" ry="0.95" fill="#d898e8" transform="rotate(34 94.4 190.1)"/>
</g>
</g>
<g clip-path="url(#cb3)"><rect x="113.18" y="126.0" width="33.0" height="91.80" fill="#050207"/>
<g mask="url(#mfade)"><rect x="113.18" y="126.0" width="33.0" height="91.80" filter="url(#noise2)" opacity="0.27"/></g>
<line x1="135.0" y1="169.7" x2="135.0" y2="177.6" stroke="#3a1850" stroke-width="0.6" opacity="0.8"/>
<line x1="127.2" y1="198.1" x2="127.2" y2="211.7" stroke="#3a1850" stroke-width="0.6" opacity="0.8"/>
<line x1="131.5" y1="184.4" x2="131.5" y2="204.9" stroke="#3a1850" stroke-width="0.6" opacity="0.8"/>
<line x1="135.9" y1="174.9" x2="135.9" y2="183.5" stroke="#3a1850" stroke-width="0.6" opacity="0.8"/>
<line x1="132.8" y1="194.4" x2="132.8" y2="202.9" stroke="#3a1850" stroke-width="0.6" opacity="0.8"/>
<line x1="124.1" y1="192.8" x2="124.1" y2="206.8" stroke="#3a1850" stroke-width="0.6" opacity="0.8"/>
<line x1="123.4" y1="183.6" x2="123.4" y2="196.4" stroke="#3a1850" stroke-width="0.6" opacity="0.8"/>
<path d="M115.0,217.8 L115.0,160.0 C115.0,147.0 121.5,140.0 129.5,140.0 C137.5,140.0 144.0,147.0 144.0,160.0 L144.0,217.8 Z" fill="#0e0714" filter="url(#b08)" opacity="0.9"/>
<ellipse cx="128.7" cy="157.6" rx="10.2" ry="10.2" fill="#3a2252" opacity="0.7" filter="url(#b25)"/>
<ellipse cx="128.7" cy="156.6" rx="5.46" ry="4.94" fill="#483862" stroke="#a898c0" stroke-width="0.8" filter="url(#b03)"/>
<g filter="url(#b03)">
<ellipse cx="124.2" cy="171.0" rx="6.8" ry="8.0" fill="#7a3a98" opacity="0.35" filter="url(#b15)"/>
<ellipse cx="130.3" cy="173.8" rx="0.42" ry="1.46" fill="#d898e8" transform="rotate(24 130.3 173.8)"/>
<ellipse cx="131.0" cy="174.2" rx="0.46" ry="1.26" fill="#ffffff" transform="rotate(-47 131.0 174.2)"/>
<ellipse cx="125.9" cy="173.1" rx="0.62" ry="1.73" fill="#e0a8f0" transform="rotate(27 125.9 173.1)"/>
<ellipse cx="126.2" cy="172.6" rx="0.67" ry="1.38" fill="#f4d8ff" transform="rotate(-21 126.2 172.6)"/>
<ellipse cx="128.8" cy="169.3" rx="0.53" ry="1.28" fill="#ffffff" transform="rotate(-17 128.8 169.3)"/>
<ellipse cx="127.7" cy="169.2" rx="0.78" ry="1.50" fill="#ffffff" transform="rotate(-10 127.7 169.2)"/>
<ellipse cx="124.7" cy="168.7" rx="0.43" ry="1.80" fill="#ffe8ff" transform="rotate(11 124.7 168.7)"/>
<ellipse cx="126.3" cy="175.4" rx="0.85" ry="1.44" fill="#d898e8" transform="rotate(-42 126.3 175.4)"/>
<ellipse cx="125.1" cy="175.4" rx="0.80" ry="0.77" fill="#d898e8" transform="rotate(-32 125.1 175.4)"/>
<ellipse cx="125.1" cy="175.7" rx="0.99" ry="1.54" fill="#f4d8ff" transform="rotate(37 125.1 175.7)"/>
<ellipse cx="120.8" cy="167.6" rx="0.42" ry="0.53" fill="#e0a8f0" transform="rotate(14 120.8 167.6)"/>
<ellipse cx="121.0" cy="167.3" rx="0.76" ry="0.56" fill="#ffffff" transform="rotate(27 121.0 167.3)"/>
<ellipse cx="123.2" cy="172.6" rx="0.65" ry="1.44" fill="#d898e8" transform="rotate(48 123.2 172.6)"/>
<ellipse cx="123.3" cy="173.5" rx="0.47" ry="1.52" fill="#ffffff" transform="rotate(40 123.3 173.5)"/>
<ellipse cx="123.6" cy="173.6" rx="0.41" ry="1.56" fill="#ffffff" transform="rotate(-28 123.6 173.6)"/>
<ellipse cx="120.3" cy="170.0" rx="0.87" ry="0.80" fill="#ffffff" transform="rotate(-13 120.3 170.0)"/>
<ellipse cx="120.4" cy="171.1" rx="0.49" ry="1.70" fill="#f4d8ff" transform="rotate(13 120.4 171.1)"/>
<ellipse cx="127.5" cy="169.4" rx="0.42" ry="0.60" fill="#d898e8" transform="rotate(19 127.5 169.4)"/>
<ellipse cx="126.9" cy="170.2" rx="0.60" ry="1.45" fill="#ffe8ff" transform="rotate(11 126.9 170.2)"/>
<ellipse cx="122.1" cy="176.5" rx="1.02" ry="0.68" fill="#d898e8" transform="rotate(-34 122.1 176.5)"/>
<ellipse cx="122.7" cy="177.2" rx="0.90" ry="1.22" fill="#f4d8ff" transform="rotate(28 122.7 177.2)"/>
<ellipse cx="122.3" cy="176.8" rx="0.44" ry="2.04" fill="#d898e8" transform="rotate(30 122.3 176.8)"/>
<ellipse cx="126.1" cy="176.4" rx="0.60" ry="1.18" fill="#ffffff" transform="rotate(-12 126.1 176.4)"/>
<ellipse cx="127.0" cy="171.9" rx="0.40" ry="0.92" fill="#ffe8ff" transform="rotate(-34 127.0 171.9)"/>
<ellipse cx="127.2" cy="173.1" rx="0.90" ry="0.96" fill="#ffffff" transform="rotate(31 127.2 173.1)"/>
<ellipse cx="129.4" cy="172.7" rx="0.75" ry="1.73" fill="#ffe8ff" transform="rotate(-15 129.4 172.7)"/>
<ellipse cx="127.6" cy="172.1" rx="0.91" ry="0.82" fill="#d898e8" transform="rotate(43 127.6 172.1)"/>
<ellipse cx="121.1" cy="171.8" rx="0.56" ry="1.69" fill="#ffe8ff" transform="rotate(-4 121.1 171.8)"/>
<ellipse cx="120.4" cy="173.2" rx="0.89" ry="0.87" fill="#e0a8f0" transform="rotate(2 120.4 173.2)"/>
<ellipse cx="120.7" cy="173.3" rx="0.61" ry="1.30" fill="#ffffff" transform="rotate(-31 120.7 173.3)"/>
<ellipse cx="120.4" cy="166.7" rx="0.66" ry="1.32" fill="#ffffff" transform="rotate(-25 120.4 166.7)"/>
<ellipse cx="121.6" cy="166.5" rx="0.95" ry="1.09" fill="#ffe8ff" transform="rotate(29 121.6 166.5)"/>
<ellipse cx="119.9" cy="172.6" rx="0.46" ry="0.82" fill="#e0a8f0" transform="rotate(-1 119.9 172.6)"/>
<ellipse cx="120.4" cy="171.8" rx="0.90" ry="1.17" fill="#ffe8ff" transform="rotate(27 120.4 171.8)"/>
<ellipse cx="128.6" cy="177.1" rx="1.04" ry="1.10" fill="#ffffff" transform="rotate(-45 128.6 177.1)"/>
<ellipse cx="128.0" cy="178.4" rx="0.69" ry="2.00" fill="#ffffff" transform="rotate(36 128.0 178.4)"/>
<ellipse cx="125.4" cy="177.1" rx="0.81" ry="2.01" fill="#d898e8" transform="rotate(1 125.4 177.1)"/>
<ellipse cx="121.5" cy="177.1" rx="0.54" ry="0.56" fill="#f4d8ff" transform="rotate(44 121.5 177.1)"/>
<ellipse cx="119.7" cy="176.0" rx="0.42" ry="1.95" fill="#f4d8ff" transform="rotate(29 119.7 176.0)"/>
<ellipse cx="125.8" cy="172.2" rx="0.88" ry="1.98" fill="#d898e8" transform="rotate(25 125.8 172.2)"/>
<ellipse cx="126.8" cy="172.9" rx="0.82" ry="1.24" fill="#f4d8ff" transform="rotate(-24 126.8 172.9)"/>
<ellipse cx="125.9" cy="173.0" rx="0.51" ry="0.88" fill="#ffffff" transform="rotate(41 125.9 173.0)"/>
<ellipse cx="129.4" cy="169.7" rx="0.93" ry="0.62" fill="#e0a8f0" transform="rotate(37 129.4 169.7)"/>
<ellipse cx="129.5" cy="169.7" rx="0.69" ry="0.65" fill="#ffe8ff" transform="rotate(34 129.5 169.7)"/>
<ellipse cx="125.4" cy="169.7" rx="0.47" ry="1.08" fill="#f4d8ff" transform="rotate(-28 125.4 169.7)"/>
<ellipse cx="124.8" cy="170.8" rx="0.75" ry="0.73" fill="#ffffff" transform="rotate(-23 124.8 170.8)"/>
<ellipse cx="123.4" cy="165.7" rx="0.91" ry="0.91" fill="#ffffff" transform="rotate(-18 123.4 165.7)"/>
<ellipse cx="124.0" cy="165.3" rx="1.03" ry="0.59" fill="#d898e8" transform="rotate(43 124.0 165.3)"/>
<ellipse cx="124.5" cy="175.0" rx="0.63" ry="2.07" fill="#ffffff" transform="rotate(43 124.5 175.0)"/>
<ellipse cx="118.7" cy="168.6" rx="0.59" ry="2.05" fill="#ffffff" transform="rotate(-6 118.7 168.6)"/>
<ellipse cx="119.6" cy="168.1" rx="0.68" ry="1.75" fill="#e0a8f0" transform="rotate(-21 119.6 168.1)"/>
<ellipse cx="122.1" cy="164.7" rx="0.49" ry="0.78" fill="#ffffff" transform="rotate(21 122.1 164.7)"/>
<ellipse cx="122.0" cy="163.6" rx="0.46" ry="1.46" fill="#ffe8ff" transform="rotate(26 122.0 163.6)"/>
<ellipse cx="122.0" cy="163.7" rx="0.83" ry="1.49" fill="#ffffff" transform="rotate(8 122.0 163.7)"/>
<ellipse cx="138.8" cy="176.0" rx="3.8" ry="13.0" fill="#7a3a98" opacity="0.35" filter="url(#b15)"/>
<ellipse cx="137.8" cy="166.6" rx="0.69" ry="0.99" fill="#f4d8ff" transform="rotate(34 137.8 166.6)"/>
<ellipse cx="137.8" cy="165.6" rx="0.41" ry="1.79" fill="#ffe8ff" transform="rotate(-37 137.8 165.6)"/>
<ellipse cx="137.4" cy="165.0" rx="0.72" ry="1.90" fill="#ffffff" transform="rotate(-34 137.4 165.0)"/>
<ellipse cx="137.8" cy="179.3" rx="0.94" ry="0.60" fill="#f4d8ff" transform="rotate(21 137.8 179.3)"/>
<ellipse cx="141.0" cy="185.7" rx="0.72" ry="1.78" fill="#f4d8ff" transform="rotate(37 141.0 185.7)"/>
<ellipse cx="141.4" cy="184.8" rx="0.69" ry="1.25" fill="#e0a8f0" transform="rotate(-37 141.4 184.8)"/>
<ellipse cx="136.7" cy="165.7" rx="0.71" ry="1.86" fill="#ffffff" transform="rotate(-40 136.7 165.7)"/>
<ellipse cx="137.7" cy="165.4" rx="0.41" ry="1.35" fill="#e0a8f0" transform="rotate(-4 137.7 165.4)"/>
<ellipse cx="138.1" cy="175.2" rx="0.43" ry="0.67" fill="#ffe8ff" transform="rotate(9 138.1 175.2)"/>
<ellipse cx="137.8" cy="173.7" rx="0.47" ry="1.76" fill="#e0a8f0" transform="rotate(9 137.8 173.7)"/>
<ellipse cx="141.2" cy="166.7" rx="0.86" ry="1.83" fill="#ffe8ff" transform="rotate(19 141.2 166.7)"/>
<ellipse cx="140.9" cy="167.8" rx="0.42" ry="1.88" fill="#ffffff" transform="rotate(28 140.9 167.8)"/>
<ellipse cx="140.4" cy="166.9" rx="0.59" ry="1.12" fill="#e0a8f0" transform="rotate(30 140.4 166.9)"/>
<ellipse cx="140.7" cy="182.7" rx="0.78" ry="1.00" fill="#ffe8ff" transform="rotate(16 140.7 182.7)"/>
<ellipse cx="135.2" cy="166.5" rx="0.68" ry="0.53" fill="#ffffff" transform="rotate(-8 135.2 166.5)"/>
<ellipse cx="135.9" cy="167.8" rx="0.65" ry="0.57" fill="#ffffff" transform="rotate(-47 135.9 167.8)"/>
<ellipse cx="139.8" cy="171.1" rx="0.42" ry="0.64" fill="#ffffff" transform="rotate(2 139.8 171.1)"/>
<ellipse cx="139.4" cy="171.5" rx="0.56" ry="0.93" fill="#d898e8" transform="rotate(-33 139.4 171.5)"/>
<ellipse cx="135.5" cy="187.2" rx="0.92" ry="1.12" fill="#e0a8f0" transform="rotate(-37 135.5 187.2)"/>
<ellipse cx="135.9" cy="186.8" rx="0.56" ry="0.85" fill="#ffffff" transform="rotate(24 135.9 186.8)"/>
<ellipse cx="137.9" cy="174.2" rx="0.80" ry="1.15" fill="#e0a8f0" transform="rotate(-20 137.9 174.2)"/>
<ellipse cx="137.5" cy="175.7" rx="0.42" ry="0.97" fill="#ffffff" transform="rotate(1 137.5 175.7)"/>
<ellipse cx="139.0" cy="177.2" rx="0.93" ry="0.96" fill="#f4d8ff" transform="rotate(-1 139.0 177.2)"/>
<ellipse cx="136.7" cy="186.6" rx="0.71" ry="1.36" fill="#f4d8ff" transform="rotate(-6 136.7 186.6)"/>
<ellipse cx="136.7" cy="187.4" rx="0.65" ry="1.54" fill="#ffffff" transform="rotate(2 136.7 187.4)"/>
<ellipse cx="141.3" cy="180.7" rx="0.48" ry="0.79" fill="#e0a8f0" transform="rotate(35 141.3 180.7)"/>
<ellipse cx="142.1" cy="180.3" rx="0.81" ry="1.56" fill="#ffe8ff" transform="rotate(-23 142.1 180.3)"/>
<ellipse cx="139.3" cy="178.2" rx="0.63" ry="1.28" fill="#ffffff" transform="rotate(-0 139.3 178.2)"/>
<ellipse cx="140.4" cy="179.3" rx="0.63" ry="1.61" fill="#e0a8f0" transform="rotate(11 140.4 179.3)"/>
<ellipse cx="137.7" cy="174.5" rx="0.60" ry="1.25" fill="#e0a8f0" transform="rotate(-12 137.7 174.5)"/>
<ellipse cx="137.7" cy="175.5" rx="0.88" ry="1.21" fill="#ffe8ff" transform="rotate(-20 137.7 175.5)"/>
<ellipse cx="138.2" cy="175.6" rx="0.64" ry="1.04" fill="#ffffff" transform="rotate(-41 138.2 175.6)"/>
<ellipse cx="122.6" cy="155.2" rx="0.49" ry="1.35" fill="#ffffff" transform="rotate(-47 122.6 155.2)"/>
<ellipse cx="121.2" cy="156.8" rx="0.44" ry="0.96" fill="#f4d8ff" transform="rotate(4 121.2 156.8)"/>
<ellipse cx="121.8" cy="157.9" rx="0.56" ry="0.77" fill="#ffffff" transform="rotate(18 121.8 157.9)"/>
<ellipse cx="122.0" cy="157.2" rx="0.47" ry="0.82" fill="#e0a8f0" transform="rotate(43 122.0 157.2)"/>
<ellipse cx="121.3" cy="157.5" rx="0.49" ry="0.82" fill="#e0a8f0" transform="rotate(40 121.3 157.5)"/>
<ellipse cx="119.7" cy="159.9" rx="0.71" ry="1.26" fill="#e0a8f0" transform="rotate(-32 119.7 159.9)"/>
<ellipse cx="121.3" cy="156.7" rx="0.68" ry="0.84" fill="#ffffff" transform="rotate(2 121.3 156.7)"/>
<ellipse cx="121.3" cy="154.8" rx="0.68" ry="0.83" fill="#ffffff" transform="rotate(13 121.3 154.8)"/>
<ellipse cx="138.8" cy="153.1" rx="0.32" ry="1.14" fill="#e0a8f0" transform="rotate(-50 138.8 153.1)"/>
<ellipse cx="137.6" cy="159.4" rx="0.52" ry="0.98" fill="#f4d8ff" transform="rotate(37 137.6 159.4)"/>
<ellipse cx="139.7" cy="156.0" rx="0.37" ry="0.56" fill="#e0a8f0" transform="rotate(-39 139.7 156.0)"/>
<ellipse cx="138.8" cy="155.4" rx="0.53" ry="1.26" fill="#e0a8f0" transform="rotate(-7 138.8 155.4)"/>
<ellipse cx="138.5" cy="157.2" rx="0.43" ry="0.43" fill="#d898e8" transform="rotate(-40 138.5 157.2)"/>
<ellipse cx="140.0" cy="158.0" rx="0.46" ry="0.87" fill="#ffe8ff" transform="rotate(-48 140.0 158.0)"/>
<ellipse cx="127.0" cy="189.0" rx="5.0" ry="6.0" fill="#7a3a98" opacity="0.35" filter="url(#b15)"/>
<ellipse cx="124.6" cy="188.2" rx="0.52" ry="0.56" fill="#e0a8f0" transform="rotate(35 124.6 188.2)"/>
<ellipse cx="125.1" cy="193.2" rx="0.86" ry="1.12" fill="#ffffff" transform="rotate(-26 125.1 193.2)"/>
<ellipse cx="125.3" cy="193.5" rx="0.51" ry="0.89" fill="#d898e8" transform="rotate(-2 125.3 193.5)"/>
<ellipse cx="126.1" cy="192.4" rx="0.48" ry="0.95" fill="#ffffff" transform="rotate(-49 126.1 192.4)"/>
<ellipse cx="129.3" cy="188.0" rx="0.59" ry="1.01" fill="#ffffff" transform="rotate(46 129.3 188.0)"/>
<ellipse cx="129.9" cy="189.0" rx="0.67" ry="0.99" fill="#ffe8ff" transform="rotate(-22 129.9 189.0)"/>
<ellipse cx="124.6" cy="183.5" rx="0.74" ry="0.62" fill="#f4d8ff" transform="rotate(4 124.6 183.5)"/>
<ellipse cx="130.0" cy="190.3" rx="0.48" ry="0.94" fill="#d898e8" transform="rotate(-9 130.0 190.3)"/>
<ellipse cx="129.6" cy="189.7" rx="0.54" ry="1.10" fill="#ffffff" transform="rotate(-27 129.6 189.7)"/>
<ellipse cx="129.2" cy="188.7" rx="0.74" ry="0.83" fill="#ffe8ff" transform="rotate(9 129.2 188.7)"/>
<ellipse cx="125.2" cy="187.1" rx="0.73" ry="0.62" fill="#f4d8ff" transform="rotate(24 125.2 187.1)"/>
<ellipse cx="126.5" cy="185.3" rx="0.74" ry="0.68" fill="#ffffff" transform="rotate(-11 126.5 185.3)"/>
<ellipse cx="123.3" cy="186.2" rx="0.45" ry="1.21" fill="#f4d8ff" transform="rotate(31 123.3 186.2)"/>
<ellipse cx="124.2" cy="185.0" rx="0.74" ry="0.61" fill="#f4d8ff" transform="rotate(-37 124.2 185.0)"/>
<ellipse cx="129.4" cy="186.7" rx="0.70" ry="1.29" fill="#ffffff" transform="rotate(44 129.4 186.7)"/>
<ellipse cx="128.1" cy="186.5" rx="0.78" ry="1.37" fill="#ffe8ff" transform="rotate(-47 128.1 186.5)"/>
<ellipse cx="129.1" cy="186.7" rx="0.88" ry="1.00" fill="#d898e8" transform="rotate(-40 129.1 186.7)"/>
<ellipse cx="125.8" cy="185.6" rx="0.42" ry="0.70" fill="#ffffff" transform="rotate(26 125.8 185.6)"/>
<ellipse cx="124.6" cy="187.3" rx="0.67" ry="1.29" fill="#ffffff" transform="rotate(6 124.6 187.3)"/>
<ellipse cx="123.2" cy="197.4" rx="0.50" ry="1.22" fill="#ffffff" transform="rotate(33 123.2 197.4)"/>
<ellipse cx="122.9" cy="196.5" rx="0.33" ry="1.15" fill="#e0a8f0" transform="rotate(20 122.9 196.5)"/>
<ellipse cx="143.9" cy="198.8" rx="0.61" ry="1.06" fill="#ffffff" transform="rotate(-8 143.9 198.8)"/>
<ellipse cx="136.4" cy="203.0" rx="0.62" ry="0.77" fill="#f4d8ff" transform="rotate(19 136.4 203.0)"/>
<ellipse cx="137.3" cy="204.8" rx="0.52" ry="0.80" fill="#ffffff" transform="rotate(18 137.3 204.8)"/>
<ellipse cx="121.7" cy="198.7" rx="0.62" ry="1.13" fill="#e0a8f0" transform="rotate(-24 121.7 198.7)"/>
<ellipse cx="121.9" cy="200.6" rx="0.52" ry="0.88" fill="#ffffff" transform="rotate(46 121.9 200.6)"/>
<ellipse cx="120.1" cy="194.4" rx="0.36" ry="1.02" fill="#d898e8" transform="rotate(-2 120.1 194.4)"/>
<ellipse cx="135.0" cy="190.4" rx="0.54" ry="0.52" fill="#d898e8" transform="rotate(-36 135.0 190.4)"/>
<ellipse cx="135.9" cy="189.7" rx="0.58" ry="0.88" fill="#ffffff" transform="rotate(18 135.9 189.7)"/>
<ellipse cx="135.1" cy="191.2" rx="0.59" ry="0.76" fill="#ffffff" transform="rotate(-39 135.1 191.2)"/>
</g>
</g>
<g clip-path="url(#cb4)"><rect x="147.44" y="126.0" width="33.0" height="91.80" fill="#050207"/>
<g mask="url(#mfade)"><rect x="147.44" y="126.0" width="33.0" height="91.80" filter="url(#noise2)" opacity="0.21"/></g>
<line x1="157.4" y1="179.4" x2="157.4" y2="188.7" stroke="#3a1850" stroke-width="0.6" opacity="0.8"/>
<line x1="150.3" y1="176.2" x2="150.3" y2="185.4" stroke="#3a1850" stroke-width="0.6" opacity="0.8"/>
<line x1="170.2" y1="182.9" x2="170.2" y2="190.7" stroke="#3a1850" stroke-width="0.6" opacity="0.8"/>
<line x1="158.5" y1="183.7" x2="158.5" y2="195.6" stroke="#3a1850" stroke-width="0.6" opacity="0.8"/>
<line x1="153.7" y1="167.9" x2="153.7" y2="174.0" stroke="#3a1850" stroke-width="0.6" opacity="0.8"/>
<line x1="179.2" y1="195.0" x2="179.2" y2="202.4" stroke="#3a1850" stroke-width="0.6" opacity="0.8"/>
<line x1="170.7" y1="204.2" x2="170.7" y2="219.2" stroke="#3a1850" stroke-width="0.6" opacity="0.8"/>
<path d="M148.5,217.8 L148.5,159.0 C148.5,146.0 155.0,139.0 163.0,139.0 C171.0,139.0 177.5,146.0 177.5,159.0 L177.5,217.8 Z" fill="#0e0714" filter="url(#b08)" opacity="0.9"/>
<ellipse cx="162.1" cy="153.2" rx="11.0" ry="11.0" fill="#3a2252" opacity="0.7" filter="url(#b25)"/>
<ellipse cx="162.1" cy="152.2" rx="6.30" ry="5.70" fill="#483862" stroke="#a898c0" stroke-width="0.8" filter="url(#b03)"/>
<g filter="url(#b03)">
<ellipse cx="164.2" cy="141.1" rx="0.45" ry="0.77" fill="#ffffff" transform="rotate(14 164.2 141.1)"/>
<ellipse cx="164.5" cy="141.5" rx="0.58" ry="0.66" fill="#ffffff" transform="rotate(-42 164.5 141.5)"/>
<ellipse cx="164.7" cy="139.3" rx="0.48" ry="0.55" fill="#f4d8ff" transform="rotate(-31 164.7 139.3)"/>
<ellipse cx="164.5" cy="143.4" rx="0.44" ry="1.04" fill="#ffe8ff" transform="rotate(-32 164.5 143.4)"/>
<ellipse cx="165.9" cy="142.5" rx="0.47" ry="0.97" fill="#f4d8ff" transform="rotate(34 165.9 142.5)"/>
<ellipse cx="164.6" cy="137.7" rx="0.65" ry="1.13" fill="#ffffff" transform="rotate(44 164.6 137.7)"/>
<ellipse cx="176.7" cy="150.2" rx="0.57" ry="0.55" fill="#ffffff" transform="rotate(-34 176.7 150.2)"/>
<ellipse cx="175.6" cy="151.1" rx="0.36" ry="0.44" fill="#ffe8ff" transform="rotate(-2 175.6 151.1)"/>
<ellipse cx="175.7" cy="150.3" rx="0.63" ry="0.84" fill="#f4d8ff" transform="rotate(-43 175.7 150.3)"/>
<ellipse cx="173.8" cy="149.7" rx="0.70" ry="0.58" fill="#d898e8" transform="rotate(-34 173.8 149.7)"/>
<ellipse cx="174.2" cy="150.7" rx="0.55" ry="0.76" fill="#ffffff" transform="rotate(-3 174.2 150.7)"/>
<ellipse cx="156.5" cy="173.0" rx="5.0" ry="12.0" fill="#7a3a98" opacity="0.35" filter="url(#b15)"/>
<ellipse cx="157.8" cy="174.4" rx="0.95" ry="2.04" fill="#e0a8f0" transform="rotate(12 157.8 174.4)"/>
<ellipse cx="157.5" cy="172.3" rx="0.83" ry="1.46" fill="#f4d8ff" transform="rotate(7 157.5 172.3)"/>
<ellipse cx="156.7" cy="173.1" rx="0.82" ry="0.72" fill="#f4d8ff" transform="rotate(3 156.7 173.1)"/>
<ellipse cx="157.9" cy="180.5" rx="0.45" ry="1.54" fill="#f4d8ff" transform="rotate(5 157.9 180.5)"/>
<ellipse cx="158.5" cy="180.3" rx="0.55" ry="1.20" fill="#f4d8ff" transform="rotate(-39 158.5 180.3)"/>
<ellipse cx="153.4" cy="182.4" rx="0.82" ry="0.80" fill="#d898e8" transform="rotate(-25 153.4 182.4)"/>
<ellipse cx="156.5" cy="174.7" rx="0.87" ry="1.94" fill="#e0a8f0" transform="rotate(-42 156.5 174.7)"/>
<ellipse cx="156.2" cy="173.2" rx="0.68" ry="1.86" fill="#e0a8f0" transform="rotate(1 156.2 173.2)"/>
<ellipse cx="159.1" cy="183.3" rx="0.75" ry="2.03" fill="#ffffff" transform="rotate(6 159.1 183.3)"/>
<ellipse cx="158.5" cy="163.9" rx="0.43" ry="1.61" fill="#ffffff" transform="rotate(-4 158.5 163.9)"/>
<ellipse cx="153.7" cy="165.9" rx="0.76" ry="1.95" fill="#f4d8ff" transform="rotate(-33 153.7 165.9)"/>
<ellipse cx="159.1" cy="168.6" rx="0.64" ry="1.66" fill="#f4d8ff" transform="rotate(22 159.1 168.6)"/>
<ellipse cx="152.6" cy="174.9" rx="0.79" ry="0.55" fill="#d898e8" transform="rotate(-26 152.6 174.9)"/>
<ellipse cx="156.0" cy="177.5" rx="0.47" ry="0.53" fill="#ffffff" transform="rotate(-43 156.0 177.5)"/>
<ellipse cx="155.3" cy="165.7" rx="0.94" ry="1.43" fill="#f4d8ff" transform="rotate(4 155.3 165.7)"/>
<ellipse cx="154.9" cy="166.0" rx="1.01" ry="0.52" fill="#f4d8ff" transform="rotate(49 154.9 166.0)"/>
<ellipse cx="157.0" cy="171.5" rx="0.52" ry="1.79" fill="#d898e8" transform="rotate(10 157.0 171.5)"/>
<ellipse cx="159.0" cy="184.2" rx="0.79" ry="0.62" fill="#f4d8ff" transform="rotate(3 159.0 184.2)"/>
<ellipse cx="158.9" cy="182.4" rx="0.80" ry="0.83" fill="#f4d8ff" transform="rotate(23 158.9 182.4)"/>
<ellipse cx="158.9" cy="183.2" rx="1.00" ry="1.00" fill="#f4d8ff" transform="rotate(8 158.9 183.2)"/>
<ellipse cx="155.9" cy="162.7" rx="0.80" ry="1.65" fill="#ffffff" transform="rotate(-23 155.9 162.7)"/>
<ellipse cx="154.7" cy="162.5" rx="0.57" ry="1.40" fill="#e0a8f0" transform="rotate(8 154.7 162.5)"/>
<ellipse cx="154.4" cy="162.9" rx="0.99" ry="1.93" fill="#ffffff" transform="rotate(37 154.4 162.9)"/>
<ellipse cx="158.4" cy="175.4" rx="0.91" ry="1.88" fill="#ffffff" transform="rotate(18 158.4 175.4)"/>
<ellipse cx="154.9" cy="179.1" rx="0.62" ry="1.37" fill="#ffe8ff" transform="rotate(-17 154.9 179.1)"/>
<ellipse cx="155.3" cy="179.2" rx="0.97" ry="1.74" fill="#e0a8f0" transform="rotate(-13 155.3 179.2)"/>
<ellipse cx="153.7" cy="166.5" rx="0.97" ry="1.56" fill="#ffe8ff" transform="rotate(-5 153.7 166.5)"/>
<ellipse cx="154.6" cy="166.7" rx="0.51" ry="0.60" fill="#f4d8ff" transform="rotate(22 154.6 166.7)"/>
<ellipse cx="153.7" cy="173.8" rx="0.99" ry="1.42" fill="#f4d8ff" transform="rotate(8 153.7 173.8)"/>
<ellipse cx="155.5" cy="174.2" rx="0.90" ry="1.18" fill="#ffffff" transform="rotate(34 155.5 174.2)"/>
<ellipse cx="155.1" cy="166.5" rx="0.80" ry="0.87" fill="#ffffff" transform="rotate(-28 155.1 166.5)"/>
<ellipse cx="154.9" cy="165.1" rx="0.79" ry="1.87" fill="#d898e8" transform="rotate(-40 154.9 165.1)"/>
<ellipse cx="154.6" cy="162.2" rx="0.92" ry="1.88" fill="#f4d8ff" transform="rotate(22 154.6 162.2)"/>
<ellipse cx="153.4" cy="162.7" rx="0.81" ry="0.52" fill="#f4d8ff" transform="rotate(42 153.4 162.7)"/>
<ellipse cx="154.5" cy="169.0" rx="0.83" ry="1.03" fill="#ffffff" transform="rotate(36 154.5 169.0)"/>
<ellipse cx="159.4" cy="165.1" rx="0.66" ry="1.99" fill="#ffffff" transform="rotate(-47 159.4 165.1)"/>
<ellipse cx="158.5" cy="164.3" rx="0.60" ry="1.16" fill="#d898e8" transform="rotate(22 158.5 164.3)"/>
<ellipse cx="171.8" cy="177.5" rx="4.2" ry="13.5" fill="#7a3a98" opacity="0.35" filter="url(#b15)"/>
<ellipse cx="170.1" cy="167.4" rx="0.87" ry="1.01" fill="#f4d8ff" transform="rotate(-8 170.1 167.4)"/>
<ellipse cx="170.7" cy="167.5" rx="0.71" ry="1.43" fill="#e0a8f0" transform="rotate(7 170.7 167.5)"/>
<ellipse cx="170.5" cy="181.1" rx="0.57" ry="1.60" fill="#d898e8" transform="rotate(-5 170.5 181.1)"/>
<ellipse cx="169.6" cy="180.5" rx="0.93" ry="0.69" fill="#ffffff" transform="rotate(6 169.6 180.5)"/>
<ellipse cx="169.2" cy="181.2" rx="0.95" ry="0.71" fill="#d898e8" transform="rotate(-27 169.2 181.2)"/>
<ellipse cx="173.7" cy="166.3" rx="0.70" ry="0.79" fill="#ffffff" transform="rotate(-24 173.7 166.3)"/>
<ellipse cx="173.2" cy="184.3" rx="0.84" ry="1.25" fill="#f4d8ff" transform="rotate(28 173.2 184.3)"/>
<ellipse cx="171.9" cy="184.6" rx="0.68" ry="1.40" fill="#f4d8ff" transform="rotate(40 171.9 184.6)"/>
<ellipse cx="170.2" cy="170.9" rx="0.44" ry="1.42" fill="#ffe8ff" transform="rotate(17 170.2 170.9)"/>
<ellipse cx="170.6" cy="171.7" rx="0.93" ry="1.39" fill="#ffffff" transform="rotate(-47 170.6 171.7)"/>
<ellipse cx="169.8" cy="171.2" rx="0.54" ry="1.00" fill="#f4d8ff" transform="rotate(26 169.8 171.2)"/>
<ellipse cx="171.1" cy="170.2" rx="0.96" ry="0.81" fill="#e0a8f0" transform="rotate(29 171.1 170.2)"/>
<ellipse cx="172.5" cy="187.5" rx="0.57" ry="0.63" fill="#ffffff" transform="rotate(-1 172.5 187.5)"/>
<ellipse cx="172.4" cy="187.5" rx="0.78" ry="1.35" fill="#ffe8ff" transform="rotate(-29 172.4 187.5)"/>
<ellipse cx="167.9" cy="185.2" rx="0.65" ry="1.12" fill="#ffffff" transform="rotate(49 167.9 185.2)"/>
<ellipse cx="168.4" cy="183.4" rx="0.46" ry="1.88" fill="#ffffff" transform="rotate(-37 168.4 183.4)"/>
<ellipse cx="169.7" cy="176.8" rx="0.78" ry="0.63" fill="#f4d8ff" transform="rotate(14 169.7 176.8)"/>
<ellipse cx="170.8" cy="177.3" rx="0.59" ry="1.77" fill="#e0a8f0" transform="rotate(-27 170.8 177.3)"/>
<ellipse cx="172.9" cy="182.5" rx="0.72" ry="1.49" fill="#d898e8" transform="rotate(-48 172.9 182.5)"/>
<ellipse cx="174.2" cy="172.9" rx="0.48" ry="1.11" fill="#ffffff" transform="rotate(-28 174.2 172.9)"/>
<ellipse cx="172.1" cy="181.6" rx="0.94" ry="0.61" fill="#ffffff" transform="rotate(35 172.1 181.6)"/>
<ellipse cx="174.4" cy="169.8" rx="0.55" ry="0.60" fill="#ffffff" transform="rotate(-30 174.4 169.8)"/>
<ellipse cx="168.3" cy="184.3" rx="0.42" ry="1.14" fill="#f4d8ff" transform="rotate(5 168.3 184.3)"/>
<ellipse cx="169.2" cy="185.9" rx="0.89" ry="1.52" fill="#ffe8ff" transform="rotate(-8 169.2 185.9)"/>
<ellipse cx="171.8" cy="174.3" rx="0.63" ry="0.70" fill="#d898e8" transform="rotate(-49 171.8 174.3)"/>
<ellipse cx="172.2" cy="175.6" rx="0.54" ry="1.37" fill="#ffe8ff" transform="rotate(49 172.2 175.6)"/>
<ellipse cx="174.6" cy="182.3" rx="0.91" ry="0.57" fill="#d898e8" transform="rotate(6 174.6 182.3)"/>
<ellipse cx="172.9" cy="176.2" rx="0.67" ry="1.42" fill="#ffe8ff" transform="rotate(1 172.9 176.2)"/>
<ellipse cx="173.1" cy="177.2" rx="0.53" ry="1.39" fill="#d898e8" transform="rotate(37 173.1 177.2)"/>
<ellipse cx="171.0" cy="167.0" rx="0.58" ry="1.39" fill="#e0a8f0" transform="rotate(16 171.0 167.0)"/>
<ellipse cx="171.7" cy="167.2" rx="0.55" ry="1.69" fill="#d898e8" transform="rotate(-15 171.7 167.2)"/>
<ellipse cx="164.6" cy="193.2" rx="0.47" ry="0.61" fill="#ffffff" transform="rotate(31 164.6 193.2)"/>
<ellipse cx="164.9" cy="191.8" rx="0.65" ry="0.88" fill="#d898e8" transform="rotate(45 164.9 191.8)"/>
<ellipse cx="169.3" cy="192.9" rx="0.67" ry="0.85" fill="#ffe8ff" transform="rotate(-35 169.3 192.9)"/>
<ellipse cx="160.3" cy="188.9" rx="0.44" ry="1.09" fill="#f4d8ff" transform="rotate(-10 160.3 188.9)"/>
<ellipse cx="161.0" cy="189.3" rx="0.50" ry="0.90" fill="#ffffff" transform="rotate(26 161.0 189.3)"/>
<ellipse cx="158.4" cy="193.8" rx="0.57" ry="0.94" fill="#ffe8ff" transform="rotate(-25 158.4 193.8)"/>
<ellipse cx="158.5" cy="192.2" rx="0.42" ry="1.01" fill="#f4d8ff" transform="rotate(22 158.5 192.2)"/>
<ellipse cx="159.9" cy="190.4" rx="0.53" ry="0.91" fill="#ffffff" transform="rotate(-30 159.9 190.4)"/>
<ellipse cx="160.2" cy="191.3" rx="0.57" ry="0.79" fill="#ffffff" transform="rotate(22 160.2 191.3)"/>
</g>
</g>
<g clip-path="url(#cb5)"><rect x="181.70" y="126.0" width="33.0" height="91.80" fill="#050207"/>
<g mask="url(#mfade)"><rect x="181.70" y="126.0" width="33.0" height="91.80" filter="url(#noise2)" opacity="0.19"/></g>
<line x1="194.3" y1="166.7" x2="194.3" y2="184.7" stroke="#3a1850" stroke-width="0.6" opacity="0.8"/>
<line x1="212.8" y1="182.2" x2="212.8" y2="198.0" stroke="#3a1850" stroke-width="0.6" opacity="0.8"/>
<line x1="190.7" y1="174.5" x2="190.7" y2="194.1" stroke="#3a1850" stroke-width="0.6" opacity="0.8"/>
<line x1="186.7" y1="189.7" x2="186.7" y2="211.4" stroke="#3a1850" stroke-width="0.6" opacity="0.8"/>
<line x1="209.1" y1="188.2" x2="209.1" y2="195.2" stroke="#3a1850" stroke-width="0.6" opacity="0.8"/>
<line x1="189.0" y1="199.4" x2="189.0" y2="206.7" stroke="#3a1850" stroke-width="0.6" opacity="0.8"/>
<line x1="196.5" y1="180.7" x2="196.5" y2="193.4" stroke="#3a1850" stroke-width="0.6" opacity="0.8"/>
<path d="M182.5,217.8 L182.5,161.0 C182.5,148.0 189.0,141.0 197.0,141.0 C205.0,141.0 211.5,148.0 211.5,161.0 L211.5,217.8 Z" fill="#0e0714" filter="url(#b08)" opacity="0.9"/>
<ellipse cx="195.8" cy="155.2" rx="11.0" ry="11.0" fill="#3a2252" opacity="0.7" filter="url(#b25)"/>
<ellipse cx="195.8" cy="154.2" rx="6.30" ry="5.70" fill="#403058" stroke="#a898c0" stroke-width="0.8" filter="url(#b03)"/>
<g filter="url(#b03)">
<ellipse cx="205.1" cy="147.7" rx="0.77" ry="1.27" fill="#ffe8ff" transform="rotate(-9 205.1 147.7)"/>
<ellipse cx="204.5" cy="147.7" rx="0.70" ry="0.51" fill="#ffffff" transform="rotate(24 204.5 147.7)"/>
<ellipse cx="204.5" cy="147.5" rx="0.67" ry="1.11" fill="#ffe8ff" transform="rotate(27 204.5 147.5)"/>
<ellipse cx="203.9" cy="147.9" rx="0.43" ry="1.40" fill="#ffffff" transform="rotate(-0 203.9 147.9)"/>
<ellipse cx="204.7" cy="146.3" rx="0.68" ry="1.03" fill="#ffffff" transform="rotate(5 204.7 146.3)"/>
<ellipse cx="206.1" cy="146.7" rx="0.46" ry="0.95" fill="#ffffff" transform="rotate(37 206.1 146.7)"/>
<ellipse cx="204.9" cy="145.5" rx="0.61" ry="0.51" fill="#e0a8f0" transform="rotate(-23 204.9 145.5)"/>
<ellipse cx="205.5" cy="178.5" rx="7.5" ry="11.5" fill="#7a3a98" opacity="0.35" filter="url(#b15)"/>
<ellipse cx="202.7" cy="174.1" rx="0.65" ry="1.90" fill="#d898e8" transform="rotate(-45 202.7 174.1)"/>
<ellipse cx="202.0" cy="175.5" rx="0.91" ry="1.85" fill="#f4d8ff" transform="rotate(-20 202.0 175.5)"/>
<ellipse cx="201.6" cy="172.7" rx="0.85" ry="0.72" fill="#f4d8ff" transform="rotate(-30 201.6 172.7)"/>
<ellipse cx="201.6" cy="172.5" rx="0.43" ry="1.00" fill="#e0a8f0" transform="rotate(-43 201.6 172.5)"/>
<ellipse cx="210.9" cy="186.0" rx="0.59" ry="1.62" fill="#e0a8f0" transform="rotate(11 210.9 186.0)"/>
<ellipse cx="205.0" cy="182.2" rx="0.68" ry="1.51" fill="#ffffff" transform="rotate(-36 205.0 182.2)"/>
<ellipse cx="205.0" cy="184.0" rx="0.72" ry="0.52" fill="#d898e8" transform="rotate(6 205.0 184.0)"/>
<ellipse cx="210.0" cy="178.5" rx="0.50" ry="1.73" fill="#d898e8" transform="rotate(-29 210.0 178.5)"/>
<ellipse cx="208.6" cy="177.5" rx="0.90" ry="2.00" fill="#ffe8ff" transform="rotate(-28 208.6 177.5)"/>
<ellipse cx="210.2" cy="182.0" rx="0.44" ry="1.60" fill="#ffffff" transform="rotate(-34 210.2 182.0)"/>
<ellipse cx="209.7" cy="183.5" rx="0.96" ry="1.76" fill="#d898e8" transform="rotate(6 209.7 183.5)"/>
<ellipse cx="209.1" cy="183.8" rx="0.61" ry="1.83" fill="#ffffff" transform="rotate(45 209.1 183.8)"/>
<ellipse cx="207.3" cy="172.0" rx="0.59" ry="1.53" fill="#d898e8" transform="rotate(-41 207.3 172.0)"/>
<ellipse cx="204.7" cy="183.1" rx="0.42" ry="1.06" fill="#d898e8" transform="rotate(42 204.7 183.1)"/>
<ellipse cx="206.0" cy="184.3" rx="0.74" ry="0.96" fill="#f4d8ff" transform="rotate(-48 206.0 184.3)"/>
<ellipse cx="205.6" cy="184.2" rx="0.98" ry="0.82" fill="#f4d8ff" transform="rotate(36 205.6 184.2)"/>
<ellipse cx="206.2" cy="179.3" rx="0.89" ry="1.71" fill="#ffffff" transform="rotate(8 206.2 179.3)"/>
<ellipse cx="203.8" cy="179.8" rx="1.00" ry="1.54" fill="#ffffff" transform="rotate(-33 203.8 179.8)"/>
<ellipse cx="204.0" cy="177.3" rx="0.90" ry="0.97" fill="#ffffff" transform="rotate(22 204.0 177.3)"/>
<ellipse cx="203.5" cy="178.7" rx="0.47" ry="0.75" fill="#ffe8ff" transform="rotate(-4 203.5 178.7)"/>
<ellipse cx="199.3" cy="179.3" rx="0.67" ry="1.82" fill="#ffffff" transform="rotate(-13 199.3 179.3)"/>
<ellipse cx="207.9" cy="170.5" rx="0.40" ry="1.52" fill="#ffe8ff" transform="rotate(-20 207.9 170.5)"/>
<ellipse cx="207.1" cy="170.5" rx="0.55" ry="0.74" fill="#f4d8ff" transform="rotate(4 207.1 170.5)"/>
<ellipse cx="200.7" cy="176.7" rx="0.56" ry="2.00" fill="#f4d8ff" transform="rotate(-10 200.7 176.7)"/>
<ellipse cx="199.9" cy="176.9" rx="0.55" ry="1.88" fill="#e0a8f0" transform="rotate(-26 199.9 176.9)"/>
<ellipse cx="200.2" cy="170.9" rx="0.77" ry="1.59" fill="#ffffff" transform="rotate(-41 200.2 170.9)"/>
<ellipse cx="201.1" cy="186.0" rx="0.47" ry="1.40" fill="#ffffff" transform="rotate(-42 201.1 186.0)"/>
<ellipse cx="207.2" cy="171.9" rx="0.62" ry="0.65" fill="#ffffff" transform="rotate(12 207.2 171.9)"/>
<ellipse cx="207.2" cy="185.7" rx="0.78" ry="0.79" fill="#f4d8ff" transform="rotate(44 207.2 185.7)"/>
<ellipse cx="207.8" cy="184.9" rx="0.46" ry="0.89" fill="#d898e8" transform="rotate(1 207.8 184.9)"/>
<ellipse cx="200.6" cy="185.8" rx="0.84" ry="1.62" fill="#ffffff" transform="rotate(50 200.6 185.8)"/>
<ellipse cx="201.8" cy="184.7" rx="0.72" ry="1.73" fill="#ffffff" transform="rotate(25 201.8 184.7)"/>
<ellipse cx="208.0" cy="172.9" rx="0.46" ry="1.63" fill="#f4d8ff" transform="rotate(8 208.0 172.9)"/>
<ellipse cx="208.7" cy="179.1" rx="1.00" ry="1.93" fill="#d898e8" transform="rotate(-3 208.7 179.1)"/>
<ellipse cx="210.0" cy="178.8" rx="0.51" ry="1.11" fill="#d898e8" transform="rotate(28 210.0 178.8)"/>
<ellipse cx="210.2" cy="177.9" rx="1.01" ry="1.34" fill="#d898e8" transform="rotate(-38 210.2 177.9)"/>
<ellipse cx="212.1" cy="185.4" rx="0.55" ry="1.43" fill="#e0a8f0" transform="rotate(-26 212.1 185.4)"/>
<ellipse cx="211.6" cy="185.5" rx="0.84" ry="1.62" fill="#ffe8ff" transform="rotate(16 211.6 185.5)"/>
<ellipse cx="204.8" cy="180.9" rx="0.46" ry="1.53" fill="#f4d8ff" transform="rotate(16 204.8 180.9)"/>
<ellipse cx="204.9" cy="181.0" rx="0.60" ry="0.97" fill="#e0a8f0" transform="rotate(-48 204.9 181.0)"/>
<ellipse cx="200.3" cy="184.6" rx="0.49" ry="1.36" fill="#ffffff" transform="rotate(-15 200.3 184.6)"/>
<ellipse cx="201.1" cy="185.3" rx="0.59" ry="0.64" fill="#f4d8ff" transform="rotate(-31 201.1 185.3)"/>
<ellipse cx="201.2" cy="184.8" rx="0.74" ry="0.88" fill="#ffffff" transform="rotate(18 201.2 184.8)"/>
<ellipse cx="199.3" cy="184.9" rx="0.50" ry="0.76" fill="#f4d8ff" transform="rotate(39 199.3 184.9)"/>
<ellipse cx="199.8" cy="186.2" rx="0.65" ry="1.29" fill="#e0a8f0" transform="rotate(29 199.8 186.2)"/>
<ellipse cx="206.7" cy="184.8" rx="0.95" ry="0.66" fill="#ffffff" transform="rotate(-5 206.7 184.8)"/>
<ellipse cx="207.5" cy="185.4" rx="0.63" ry="0.66" fill="#e0a8f0" transform="rotate(23 207.5 185.4)"/>
<ellipse cx="209.6" cy="182.9" rx="0.83" ry="0.62" fill="#e0a8f0" transform="rotate(-17 209.6 182.9)"/>
<ellipse cx="208.3" cy="181.5" rx="0.60" ry="1.62" fill="#d898e8" transform="rotate(-12 208.3 181.5)"/>
<ellipse cx="205.8" cy="182.7" rx="0.41" ry="1.88" fill="#d898e8" transform="rotate(-38 205.8 182.7)"/>
<ellipse cx="205.5" cy="181.8" rx="0.73" ry="0.74" fill="#e0a8f0" transform="rotate(25 205.5 181.8)"/>
<ellipse cx="204.9" cy="181.8" rx="0.49" ry="2.01" fill="#f4d8ff" transform="rotate(-36 204.9 181.8)"/>
<ellipse cx="185.8" cy="173.1" rx="0.56" ry="1.42" fill="#d898e8" transform="rotate(26 185.8 173.1)"/>
<ellipse cx="184.0" cy="173.5" rx="0.35" ry="1.39" fill="#d898e8" transform="rotate(-12 184.0 173.5)"/>
<ellipse cx="184.8" cy="174.2" rx="0.60" ry="0.69" fill="#ffffff" transform="rotate(33 184.8 174.2)"/>
<ellipse cx="183.9" cy="172.6" rx="0.53" ry="1.33" fill="#ffffff" transform="rotate(2 183.9 172.6)"/>
<ellipse cx="186.0" cy="172.8" rx="0.55" ry="1.41" fill="#f4d8ff" transform="rotate(46 186.0 172.8)"/>
<ellipse cx="185.0" cy="171.4" rx="0.70" ry="0.61" fill="#f4d8ff" transform="rotate(43 185.0 171.4)"/>
<ellipse cx="184.0" cy="174.1" rx="0.71" ry="0.68" fill="#ffffff" transform="rotate(43 184.0 174.1)"/>
<ellipse cx="184.5" cy="174.4" rx="0.48" ry="0.57" fill="#f4d8ff" transform="rotate(-46 184.5 174.4)"/>
<ellipse cx="193.3" cy="165.9" rx="0.47" ry="1.35" fill="#e0a8f0" transform="rotate(31 193.3 165.9)"/>
<ellipse cx="193.5" cy="165.5" rx="0.50" ry="0.41" fill="#e0a8f0" transform="rotate(33 193.5 165.5)"/>
<ellipse cx="192.9" cy="166.1" rx="0.70" ry="0.68" fill="#ffffff" transform="rotate(39 192.9 166.1)"/>
<ellipse cx="199.4" cy="161.7" rx="0.69" ry="0.57" fill="#ffffff" transform="rotate(47 199.4 161.7)"/>
<ellipse cx="199.0" cy="161.6" rx="0.63" ry="0.81" fill="#d898e8" transform="rotate(34 199.0 161.6)"/>
<ellipse cx="198.6" cy="161.2" rx="0.45" ry="1.30" fill="#d898e8" transform="rotate(37 198.6 161.2)"/>
<ellipse cx="194.6" cy="165.9" rx="0.35" ry="0.83" fill="#e0a8f0" transform="rotate(-50 194.6 165.9)"/>
<ellipse cx="195.5" cy="165.6" rx="0.49" ry="0.62" fill="#d898e8" transform="rotate(-23 195.5 165.6)"/>
<ellipse cx="197.8" cy="169.9" rx="0.62" ry="0.92" fill="#f4d8ff" transform="rotate(40 197.8 169.9)"/>
<ellipse cx="198.9" cy="170.2" rx="0.58" ry="1.31" fill="#ffffff" transform="rotate(15 198.9 170.2)"/>
<ellipse cx="198.1" cy="200.6" rx="0.56" ry="0.93" fill="#e0a8f0" transform="rotate(-29 198.1 200.6)"/>
<ellipse cx="197.1" cy="198.9" rx="0.59" ry="1.41" fill="#ffffff" transform="rotate(-14 197.1 198.9)"/>
<ellipse cx="196.5" cy="198.3" rx="0.63" ry="0.86" fill="#e0a8f0" transform="rotate(-44 196.5 198.3)"/>
<ellipse cx="197.0" cy="198.5" rx="0.64" ry="0.44" fill="#ffe8ff" transform="rotate(-39 197.0 198.5)"/>
<ellipse cx="196.6" cy="201.2" rx="0.41" ry="0.98" fill="#ffffff" transform="rotate(-22 196.6 201.2)"/>
<ellipse cx="196.6" cy="201.3" rx="0.61" ry="0.63" fill="#ffffff" transform="rotate(-47 196.6 201.3)"/>
<ellipse cx="192.0" cy="190.6" rx="0.36" ry="0.52" fill="#ffe8ff" transform="rotate(1 192.0 190.6)"/>
<ellipse cx="192.5" cy="191.2" rx="0.45" ry="1.43" fill="#ffffff" transform="rotate(14 192.5 191.2)"/>
<ellipse cx="191.1" cy="191.4" rx="0.36" ry="0.57" fill="#ffffff" transform="rotate(-42 191.1 191.4)"/>
<ellipse cx="192.6" cy="190.0" rx="0.63" ry="1.22" fill="#d898e8" transform="rotate(-30 192.6 190.0)"/>
<ellipse cx="191.3" cy="191.3" rx="0.60" ry="1.41" fill="#d898e8" transform="rotate(29 191.3 191.3)"/>
</g>
<text transform="translate(212.4,132.5) rotate(-90)" text-anchor="middle" font-size="3.6" fill="#e8e0f0" font-family="Liberation Serif, serif">10 mm</text>
<text x="210.6" y="141.8" text-anchor="middle" font-size="2.4" fill="#e8e0f0" font-family="Liberation Sans, sans-serif">1mm</text>
</g>
<line x1="29.7" y1="141.6" x2="47.4" y2="139.7" stroke="#fff" stroke-width="0.8" stroke-linecap="round"/>
<line x1="27" y1="158.4" x2="30.5" y2="172.9" stroke="#fff" stroke-width="0.8" stroke-linecap="round"/>
<line x1="55.8" y1="155.4" x2="39.6" y2="172.9" stroke="#fff" stroke-width="0.8" stroke-linecap="round"/>
<line x1="63.5" y1="183.3" x2="71.5" y2="196" stroke="#fff" stroke-width="0.8" stroke-linecap="round"/>
<line x1="93.7" y1="184" x2="83.2" y2="195.4" stroke="#fff" stroke-width="0.8" stroke-linecap="round"/>
<line x1="208.7" y1="181.7" x2="197.4" y2="192.2" stroke="#fff" stroke-width="0.8" stroke-linecap="round"/>
<text x="49" y="139.6" text-anchor="start" font-size="6.5" fill="#fff" font-family="Liberation Serif, serif" textLength="18.5" lengthAdjust="spacingAndGlyphs">Spatter</text>
<text x="20.9" y="179.4" text-anchor="start" font-size="6.4" fill="#fff" font-family="Liberation Serif, serif" textLength="21.7" lengthAdjust="spacingAndGlyphs">Keyhole</text>
<text x="59.4" y="201.6" text-anchor="start" font-size="6.6" fill="#fff" font-family="Liberation Serif, serif" textLength="32.6" lengthAdjust="spacingAndGlyphs">Molten pool</text>
<text x="184.3" y="199.3" text-anchor="start" font-size="6.3" fill="#fff" font-family="Liberation Serif, serif" textLength="23.6" lengthAdjust="spacingAndGlyphs">Undercut</text>
<text x="3.4" y="239.6" font-size="9.17" fill="#000" font-family="Liberation Serif, serif" textLength="218.1" lengthAdjust="spacingAndGlyphs">Influence mechanism of shielding gas on spatter formation.</text>
<text x="235" y="230.6" font-size="9.17" fill="#000" font-family="Liberation Serif, serif" textLength="200.7" lengthAdjust="spacingAndGlyphs">The direct suppression mechanism of the shielding gas</text>
<text x="280" y="241.4" font-size="9.17" fill="#000" font-family="Liberation Serif, serif" textLength="108.3" lengthAdjust="spacingAndGlyphs">flow on the spatter formation.</text>
<clipPath id="cv"><path d="M250.00,13.10 L272.60,13.10 L285.80,41.60 L305.30,32.60 L330.30,32.60 L330.30,93.00 L266.50,93.00 L266.50,50.00 L266.20,49.30 Z"/></clipPath>
<g clip-path="url(#cv)">
<path d="M250.00,13.10 L272.60,13.10 L285.80,41.60 L305.30,32.60 L330.30,32.60 L330.30,93.00 L266.50,93.00 L266.50,50.00 L266.20,49.30 Z" fill="#0c3cf0"/>
<g filter="url(#b03)">
<path d="M249.51,12.00 L266.07,49.00 L266.50,52.00 L266.50,94.00 L331.00,94.00 L331.00,83.00 L322.00,82.60 L313.00,80.30 L309.00,74.00 L304.30,66.00 L296.00,52.00 L288.60,43.00 L285.80,41.60 L272.09,12.00 Z" fill="#00a0ff"/>
<ellipse cx="272.1" cy="82" rx="1.9" ry="6.0" fill="#0c3cf0" transform="rotate(-14 272.1 82)"/>
<path d="M266,50.5 L266.8,54 L267.5,60 L268.4,66 L269.1,72 L268.6,75 L267.6,76.8 L266,77.5 Z" fill="#0c3cf0"/>
<ellipse cx="268.9" cy="81.5" rx="0.7" ry="2.2" fill="#00e0f8"/>
<path d="M249.96,12.00 L266.52,49.00 L267.70,54.00 L268.90,60.00 L271.50,72.00 L273.90,80.00 L274.80,85.50 L273.50,87.60 L269.00,87.80 L267.00,88.20 L266.50,94.00 L331.00,94.00 L331.00,85.40 L322.00,85.20 L314.00,84.00 L311.40,82.00 L306.00,73.00 L298.60,62.00 L292.00,50.00 L287.60,42.50 L285.26,41.60 L271.55,12.00 Z" fill="#00e0f8"/>
<path d="M250.51,12.00 L267.07,49.00 L268.90,54.00 L271.00,60.00 L274.40,72.00 L277.50,77.00 L280.10,80.50 L282.00,86.00 L284.90,89.20 L286.00,91.00 L300.00,91.20 L323.00,91.00 L324.50,89.50 L323.00,87.60 L312.00,87.20 L304.50,85.40 L303.00,80.00 L301.40,76.00 L296.00,62.00 L290.00,48.00 L286.60,41.50 L284.44,41.00 L271.01,12.00 Z" fill="#18ea5c"/>
<path d="M251.11,12.00 L267.67,49.00 L270.60,54.00 L273.20,60.00 L277.20,72.00 L281.00,76.50 L285.80,80.20 L289.60,84.00 L293.00,86.40 L295.20,85.80 L297.20,83.00 L297.00,79.00 L294.60,74.00 L291.50,60.00 L287.50,47.00 L285.30,41.00 L282.90,40.00 L269.93,12.00 Z" fill="#a8f800"/>
<ellipse cx="310" cy="91.2" rx="5" ry="0.7" fill="#a8f800"/>
<ellipse cx="310" cy="91.3" rx="3.2" ry="0.45" fill="#fff000"/>
<path d="M251.71,12.00 L267.82,48.00 L271.50,54.00 L274.90,60.00 L279.10,71.00 L284.00,76.50 L288.50,79.40 L290.70,79.90 L292.40,78.00 L293.20,72.00 L291.50,64.00 L289.00,56.00 L286.50,48.00 L284.40,42.00 L282.63,40.00 L269.66,12.00 Z" fill="#fff000"/>
<path d="M264.20,15.30 L263.69,15.56 L263.21,15.98 L262.76,16.53 L262.37,17.17 L262.04,17.88 L261.80,18.60 L261.63,19.36 L261.51,20.17 L261.47,21.04 L261.50,21.97 L261.60,22.96 L261.80,24.00 L262.12,25.08 L262.55,26.20 L263.07,27.37 L263.63,28.62 L264.18,29.96 L264.70,31.40 L265.19,33.03 L265.68,34.87 L266.17,36.79 L266.66,38.69 L267.14,40.46 L267.60,42.00 L268.02,43.27 L268.41,44.34 L268.79,45.29 L269.19,46.17 L269.61,47.05 L270.10,48.00 L270.66,49.00 L271.27,50.00 L271.92,51.00 L272.59,52.00 L273.25,53.00 L273.90,54.00 L274.54,55.00 L275.17,56.00 L275.81,57.00 L276.45,58.00 L277.08,59.00 L277.70,60.00 L278.32,61.02 L278.94,62.06 L279.56,63.09 L280.16,64.11 L280.74,65.09 L281.30,66.00 L281.82,66.85 L282.32,67.65 L282.80,68.41 L283.27,69.13 L283.73,69.83 L284.20,70.50 L284.69,71.17 L285.19,71.83 L285.69,72.46 L286.17,73.04 L286.61,73.56 L287.00,74.00 L287.33,74.38 L287.61,74.71 L287.86,74.99 L288.08,75.17 L288.29,75.25 L288.50,75.20 L288.73,75.01 L288.97,74.69 L289.19,74.27 L289.39,73.75 L289.53,73.16 L289.60,72.50 L289.59,71.76 L289.51,70.93 L289.38,70.02 L289.20,69.05 L289.01,68.04 L288.80,67.00 L288.57,65.91 L288.29,64.74 L287.99,63.53 L287.68,62.31 L287.38,61.13 L287.10,60.00 L286.86,58.98 L286.65,58.04 L286.44,57.12 L286.23,56.19 L285.99,55.16 L285.70,54.00 L285.40,52.73 L285.10,51.39 L284.78,49.98 L284.40,48.45 L283.91,46.80 L283.30,45.00 L282.52,42.96 L281.59,40.67 L280.56,38.26 L279.49,35.83 L278.42,33.51 L277.40,31.40 L276.40,29.48 L275.38,27.64 L274.36,25.91 L273.37,24.29 L272.44,22.82 L271.60,21.50 L270.88,20.35 L270.24,19.36 L269.68,18.51 L269.13,17.78 L268.59,17.15 L268.00,16.60 L267.36,16.12 L266.70,15.73 L266.02,15.44 L265.37,15.26 L264.75,15.21 Z" fill="#ff9c08"/>
<path d="M271.70,31.30 L271.37,31.55 L271.05,31.96 L270.75,32.48 L270.48,33.10 L270.26,33.78 L270.10,34.50 L270.00,35.25 L269.93,36.07 L269.92,36.95 L269.96,37.90 L270.05,38.91 L270.20,40.00 L270.41,41.21 L270.68,42.56 L271.01,43.97 L271.39,45.39 L271.82,46.75 L272.30,48.00 L272.85,49.12 L273.49,50.15 L274.17,51.12 L274.88,52.07 L275.60,53.02 L276.30,54.00 L277.00,55.00 L277.71,56.00 L278.43,57.00 L279.14,58.00 L279.84,59.00 L280.50,60.00 L281.13,61.02 L281.75,62.07 L282.35,63.12 L282.93,64.15 L283.48,65.12 L284.00,66.00 L284.51,66.81 L285.00,67.58 L285.46,68.29 L285.89,68.93 L286.28,69.51 L286.60,70.00 L286.85,70.42 L287.04,70.78 L287.18,71.07 L287.29,71.27 L287.39,71.39 L287.50,71.40 L287.62,71.29 L287.74,71.07 L287.86,70.76 L287.94,70.37 L288.00,69.95 L288.00,69.50 L287.95,69.04 L287.85,68.54 L287.72,68.01 L287.56,67.41 L287.38,66.75 L287.20,66.00 L287.00,65.14 L286.79,64.19 L286.56,63.16 L286.31,62.09 L286.06,61.03 L285.80,60.00 L285.54,59.02 L285.29,58.06 L285.03,57.09 L284.74,56.11 L284.44,55.09 L284.10,54.00 L283.74,52.86 L283.38,51.69 L282.99,50.47 L282.56,49.20 L282.07,47.88 L281.50,46.50 L280.82,44.97 L280.02,43.30 L279.16,41.56 L278.30,39.87 L277.50,38.32 L276.80,37.00 L276.22,35.92 L275.71,35.01 L275.25,34.23 L274.83,33.57 L274.42,33.00 L274.00,32.50 L273.58,32.06 L273.17,31.69 L272.78,31.42 L272.40,31.25 L272.04,31.21 Z" fill="#f83a10"/>
</g>
<path d="M266.5,92.7 H330.3" stroke="#0058ff" stroke-width="0.7" opacity="0.8"/>
<path d="M250,13.1 L266.2,49.3 M272.6,13.1 L285.8,41.6" stroke="#00a0ff" stroke-width="0.3" fill="none"/>
</g>
<rect x="230.6" y="20.30" width="3.5" height="5.55" fill="#f83a10"/>
<rect x="230.6" y="25.80" width="3.5" height="5.55" fill="#ff9c08"/>
<rect x="230.6" y="31.30" width="3.5" height="5.55" fill="#ffe000"/>
<rect x="230.6" y="36.80" width="3.5" height="5.55" fill="#b4f400"/>
<rect x="230.6" y="42.30" width="3.5" height="5.55" fill="#30e850"/>
<rect x="230.6" y="47.80" width="3.5" height="5.55" fill="#00e898"/>
<rect x="230.6" y="53.30" width="3.5" height="5.55" fill="#00e8d8"/>
<rect x="230.6" y="58.80" width="3.5" height="5.55" fill="#00c8ff"/>
<rect x="230.6" y="64.30" width="3.5" height="5.55" fill="#0088ff"/>
<rect x="230.6" y="69.80" width="3.5" height="5.55" fill="#0028ff"/>
<text x="230.29999999999998" y="17.7" font-size="3.5" font-weight="bold" fill="#222" font-family="Liberation Sans, sans-serif" textLength="11.4" lengthAdjust="spacingAndGlyphs">Velocity</text>
<text x="236.3" y="22.10" font-size="3.45" fill="#2a2a2a" font-family="Liberation Sans, sans-serif">15.723</text>
<text x="236.3" y="27.66" font-size="3.45" fill="#2a2a2a" font-family="Liberation Sans, sans-serif">14.150</text>
<text x="236.3" y="33.22" font-size="3.45" fill="#2a2a2a" font-family="Liberation Sans, sans-serif">12.578</text>
<text x="236.3" y="38.78" font-size="3.45" fill="#2a2a2a" font-family="Liberation Sans, sans-serif">11.006</text>
<text x="236.3" y="44.34" font-size="3.45" fill="#2a2a2a" font-family="Liberation Sans, sans-serif">9.434</text>
<text x="236.3" y="49.90" font-size="3.45" fill="#2a2a2a" font-family="Liberation Sans, sans-serif">7.861</text>
<text x="236.3" y="55.46" font-size="3.45" fill="#2a2a2a" font-family="Liberation Sans, sans-serif">6.289</text>
<text x="236.3" y="61.02" font-size="3.45" fill="#2a2a2a" font-family="Liberation Sans, sans-serif">4.717</text>
<text x="236.3" y="66.58" font-size="3.45" fill="#2a2a2a" font-family="Liberation Sans, sans-serif">3.145</text>
<text x="236.3" y="72.14" font-size="3.45" fill="#2a2a2a" font-family="Liberation Sans, sans-serif">1.572</text>
<text x="236.3" y="77.70" font-size="3.45" fill="#2a2a2a" font-family="Liberation Sans, sans-serif">0.000</text>
<text x="230.29999999999998" y="80.7" font-size="3.3" fill="#2a2a2a" font-family="Liberation Sans, sans-serif">[m s^-1]</text>
<rect x="227.9" y="120.60" width="3.5" height="6.27" fill="#f83a10"/>
<rect x="227.9" y="126.82" width="3.5" height="6.27" fill="#ff9c08"/>
<rect x="227.9" y="133.04" width="3.5" height="6.27" fill="#ffe000"/>
<rect x="227.9" y="139.26" width="3.5" height="6.27" fill="#b4f400"/>
<rect x="227.9" y="145.48" width="3.5" height="6.27" fill="#30e850"/>
<rect x="227.9" y="151.70" width="3.5" height="6.27" fill="#00e898"/>
<rect x="227.9" y="157.92" width="3.5" height="6.27" fill="#00e8d8"/>
<rect x="227.9" y="164.14" width="3.5" height="6.27" fill="#00c8ff"/>
<rect x="227.9" y="170.36" width="3.5" height="6.27" fill="#0088ff"/>
<rect x="227.9" y="176.58" width="3.5" height="6.27" fill="#0028ff"/>
<text x="227.6" y="118.0" font-size="3.5" font-weight="bold" fill="#222" font-family="Liberation Sans, sans-serif" textLength="14.2" lengthAdjust="spacingAndGlyphs">Pressure</text>
<text x="233.1" y="122.60" font-size="3.45" fill="#2a2a2a" font-family="Liberation Sans, sans-serif">187.121</text>
<text x="233.1" y="128.88" font-size="3.45" fill="#2a2a2a" font-family="Liberation Sans, sans-serif">167.329</text>
<text x="233.1" y="135.16" font-size="3.45" fill="#2a2a2a" font-family="Liberation Sans, sans-serif">147.536</text>
<text x="233.1" y="141.44" font-size="3.45" fill="#2a2a2a" font-family="Liberation Sans, sans-serif">127.744</text>
<text x="233.1" y="147.72" font-size="3.45" fill="#2a2a2a" font-family="Liberation Sans, sans-serif">107.951</text>
<text x="233.1" y="154.00" font-size="3.45" fill="#2a2a2a" font-family="Liberation Sans, sans-serif">88.159</text>
<text x="233.1" y="160.28" font-size="3.45" fill="#2a2a2a" font-family="Liberation Sans, sans-serif">68.367</text>
<text x="233.1" y="166.56" font-size="3.45" fill="#2a2a2a" font-family="Liberation Sans, sans-serif">48.574</text>
<text x="233.1" y="172.84" font-size="3.45" fill="#2a2a2a" font-family="Liberation Sans, sans-serif">28.782</text>
<text x="233.1" y="179.12" font-size="3.45" fill="#2a2a2a" font-family="Liberation Sans, sans-serif">8.989</text>
<text x="233.1" y="185.40" font-size="3.45" fill="#2a2a2a" font-family="Liberation Sans, sans-serif">-10.803</text>
<text x="227.6" y="188.2" font-size="3.3" fill="#2a2a2a" font-family="Liberation Sans, sans-serif">[Pa]</text>
<rect x="264.3" y="101.6" width="63.6" height="1.4" fill="#dcdcdc" stroke="#888" stroke-width="0.2"/>
<rect x="264.3" y="101.6" width="15.90" height="1.4" fill="#000"/>
<rect x="296.10" y="101.6" width="15.90" height="1.4" fill="#000"/>
<text x="264.3" y="100.5" font-size="2.4" fill="#333" text-anchor="middle" font-family="Liberation Sans, sans-serif">0</text>
<text x="296.6" y="100.5" font-size="2.4" fill="#333" text-anchor="middle" font-family="Liberation Sans, sans-serif">0.050</text>
<text x="326.9" y="100.5" font-size="2.4" fill="#333" text-anchor="middle" font-family="Liberation Sans, sans-serif">0.100 (m)</text>
<text x="280.2" y="104.9" font-size="2.4" fill="#333" text-anchor="middle" font-family="Liberation Sans, sans-serif">0.025</text>
<text x="312.0" y="104.9" font-size="2.4" fill="#333" text-anchor="middle" font-family="Liberation Sans, sans-serif">0.075</text>
<rect x="260.9" y="212.5" width="64.3" height="1.4" fill="#dcdcdc" stroke="#888" stroke-width="0.2"/>
<rect x="260.9" y="212.5" width="16.08" height="1.4" fill="#000"/>
<rect x="293.05" y="212.5" width="16.08" height="1.4" fill="#000"/>
<text x="260.9" y="211.4" font-size="2.4" fill="#333" text-anchor="middle" font-family="Liberation Sans, sans-serif">0</text>
<text x="293.5" y="211.4" font-size="2.4" fill="#333" text-anchor="middle" font-family="Liberation Sans, sans-serif">0.050</text>
<text x="324.2" y="211.4" font-size="2.4" fill="#333" text-anchor="middle" font-family="Liberation Sans, sans-serif">0.100 (m)</text>
<text x="277.0" y="215.8" font-size="2.4" fill="#333" text-anchor="middle" font-family="Liberation Sans, sans-serif">0.025</text>
<text x="309.1" y="215.8" font-size="2.4" fill="#333" text-anchor="middle" font-family="Liberation Sans, sans-serif">0.075</text>
<clipPath id="cp"><path d="M247.10,112.70 L270.00,112.70 L282.00,144.40 L302.30,134.30 L330.10,134.30 L330.10,202.90 L264.30,202.90 L264.30,154.80 L265.00,153.00 Z"/></clipPath>
<g clip-path="url(#cp)">
<path d="M247.10,112.70 L270.00,112.70 L282.00,144.40 L302.30,134.30 L330.10,134.30 L330.10,202.90 L264.30,202.90 L264.30,154.80 L265.00,153.00 Z" fill="#0c3cf0"/>
<g filter="url(#b03)">
<path d="M240,105 H283 V141.9 L280.8,141.9 Q272,142.6 263.4,149.8 L240,150 Z" fill="#00a0ff"/>
<path d="M240,105 H283 V133.6 L278.4,133.6 Q268,134.5 260.0,140.8 L240,141 Z" fill="#00e0f8"/>
<path d="M240,105 H283 V124.1 L274.6,124.1 Q264,125.6 256.0,131.4 L240,131.5 Z" fill="#00eeb8"/>
<path d="M240,105 H283 V114.2 L270.4,114.2 Q259.5,116.6 251.6,123 L240,123 Z" fill="#18ea5c"/>
<path d="M262,204 L262,197.2 Q264.5,197.4 266.5,199.5 Q269,201.8 272,199.8 C276,197 279,192.5 283,187.5 Q285,184.6 288,184.5 L294.5,184.6 Q297.5,184.8 299.5,187.5 C304,193.5 308,199 313.5,202.2 L315,204 Z" fill="#00a0ff"/>
<path d="M277.2,204 C281,199.5 284.5,194.5 288,192.6 Q291.5,191.2 295,192.6 C299,195 303,199.5 305.8,204 Z" fill="#00e0f8"/>
<path d="M282.4,204 C285,199.5 288,196.5 291,195.4 Q295,195.6 297.5,198 C299.5,200 300.5,202 301.3,204 Z" fill="#18ea5c"/>
<path d="M287.5,204 C288.8,200.5 290.5,199 292.5,198.8 C294.8,199 296.5,200.8 297.5,204 Z" fill="#a8f800"/>
<ellipse cx="292.5" cy="203.2" rx="2.6" ry="1.6" fill="#fff000"/>
</g></g>
<rect x="346.2" y="15.6" width="95.4" height="77.2" fill="#fff" stroke="#666" stroke-width="0.6"/>
<line x1="346.2" y1="87.00" x2="347.8" y2="87.00" stroke="#444" stroke-width="0.5"/>
<text x="344.00" y="88.75" font-size="5.3" text-anchor="end" fill="#000" font-family="Liberation Serif, serif">0</text>
<line x1="346.2" y1="76.00" x2="347.8" y2="76.00" stroke="#444" stroke-width="0.5"/>
<text x="344.00" y="77.75" font-size="5.3" text-anchor="end" fill="#000" font-family="Liberation Serif, serif">2</text>
<line x1="346.2" y1="65.00" x2="347.8" y2="65.00" stroke="#444" stroke-width="0.5"/>
<text x="344.00" y="66.75" font-size="5.3" text-anchor="end" fill="#000" font-family="Liberation Serif, serif">4</text>
<line x1="346.2" y1="54.00" x2="347.8" y2="54.00" stroke="#444" stroke-width="0.5"/>
<text x="344.00" y="55.75" font-size="5.3" text-anchor="end" fill="#000" font-family="Liberation Serif, serif">6</text>
<line x1="346.2" y1="43.00" x2="347.8" y2="43.00" stroke="#444" stroke-width="0.5"/>
<text x="344.00" y="44.75" font-size="5.3" text-anchor="end" fill="#000" font-family="Liberation Serif, serif">8</text>
<line x1="346.2" y1="32.00" x2="347.8" y2="32.00" stroke="#444" stroke-width="0.5"/>
<text x="344.00" y="33.75" font-size="5.3" text-anchor="end" fill="#000" font-family="Liberation Serif, serif">10</text>
<line x1="346.2" y1="21.00" x2="347.8" y2="21.00" stroke="#444" stroke-width="0.5"/>
<text x="344.00" y="22.75" font-size="5.3" text-anchor="end" fill="#000" font-family="Liberation Serif, serif">12</text>
<line x1="346.2" y1="81.50" x2="347.09999999999997" y2="81.50" stroke="#666" stroke-width="0.4"/>
<line x1="346.2" y1="70.50" x2="347.09999999999997" y2="70.50" stroke="#666" stroke-width="0.4"/>
<line x1="346.2" y1="59.50" x2="347.09999999999997" y2="59.50" stroke="#666" stroke-width="0.4"/>
<line x1="346.2" y1="48.50" x2="347.09999999999997" y2="48.50" stroke="#666" stroke-width="0.4"/>
<line x1="346.2" y1="37.50" x2="347.09999999999997" y2="37.50" stroke="#666" stroke-width="0.4"/>
<line x1="346.2" y1="26.50" x2="347.09999999999997" y2="26.50" stroke="#666" stroke-width="0.4"/>
<line x1="346.2" y1="15.50" x2="347.09999999999997" y2="15.50" stroke="#666" stroke-width="0.4"/>
<line x1="353.70" y1="92.85" x2="353.70" y2="91.25" stroke="#444" stroke-width="0.5"/>
<text x="353.70" y="98.45" font-size="5.3" text-anchor="middle" fill="#000" font-family="Liberation Serif, serif">0</text>
<line x1="369.80" y1="92.85" x2="369.80" y2="91.25" stroke="#444" stroke-width="0.5"/>
<text x="369.80" y="98.45" font-size="5.3" text-anchor="middle" fill="#000" font-family="Liberation Serif, serif">5</text>
<line x1="385.80" y1="92.85" x2="385.80" y2="91.25" stroke="#444" stroke-width="0.5"/>
<text x="385.80" y="98.45" font-size="5.3" text-anchor="middle" fill="#000" font-family="Liberation Serif, serif">10</text>
<line x1="401.80" y1="92.85" x2="401.80" y2="91.25" stroke="#444" stroke-width="0.5"/>
<text x="401.80" y="98.45" font-size="5.3" text-anchor="middle" fill="#000" font-family="Liberation Serif, serif">15</text>
<line x1="417.80" y1="92.85" x2="417.80" y2="91.25" stroke="#444" stroke-width="0.5"/>
<text x="417.80" y="98.45" font-size="5.3" text-anchor="middle" fill="#000" font-family="Liberation Serif, serif">20</text>
<line x1="433.80" y1="92.85" x2="433.80" y2="91.25" stroke="#444" stroke-width="0.5"/>
<text x="433.80" y="98.45" font-size="5.3" text-anchor="middle" fill="#000" font-family="Liberation Serif, serif">25</text>
<line x1="356.92" y1="92.85" x2="356.92" y2="91.94999999999999" stroke="#666" stroke-width="0.4"/>
<line x1="360.14" y1="92.85" x2="360.14" y2="91.94999999999999" stroke="#666" stroke-width="0.4"/>
<line x1="363.36" y1="92.85" x2="363.36" y2="91.94999999999999" stroke="#666" stroke-width="0.4"/>
<line x1="366.58" y1="92.85" x2="366.58" y2="91.94999999999999" stroke="#666" stroke-width="0.4"/>
<line x1="373.00" y1="92.85" x2="373.00" y2="91.94999999999999" stroke="#666" stroke-width="0.4"/>
<line x1="376.20" y1="92.85" x2="376.20" y2="91.94999999999999" stroke="#666" stroke-width="0.4"/>
<line x1="379.40" y1="92.85" x2="379.40" y2="91.94999999999999" stroke="#666" stroke-width="0.4"/>
<line x1="382.60" y1="92.85" x2="382.60" y2="91.94999999999999" stroke="#666" stroke-width="0.4"/>
<line x1="389.00" y1="92.85" x2="389.00" y2="91.94999999999999" stroke="#666" stroke-width="0.4"/>
<line x1="392.20" y1="92.85" x2="392.20" y2="91.94999999999999" stroke="#666" stroke-width="0.4"/>
<line x1="395.40" y1="92.85" x2="395.40" y2="91.94999999999999" stroke="#666" stroke-width="0.4"/>
<line x1="398.60" y1="92.85" x2="398.60" y2="91.94999999999999" stroke="#666" stroke-width="0.4"/>
<line x1="405.00" y1="92.85" x2="405.00" y2="91.94999999999999" stroke="#666" stroke-width="0.4"/>
<line x1="408.20" y1="92.85" x2="408.20" y2="91.94999999999999" stroke="#666" stroke-width="0.4"/>
<line x1="411.40" y1="92.85" x2="411.40" y2="91.94999999999999" stroke="#666" stroke-width="0.4"/>
<line x1="414.60" y1="92.85" x2="414.60" y2="91.94999999999999" stroke="#666" stroke-width="0.4"/>
<line x1="421.00" y1="92.85" x2="421.00" y2="91.94999999999999" stroke="#666" stroke-width="0.4"/>
<line x1="424.20" y1="92.85" x2="424.20" y2="91.94999999999999" stroke="#666" stroke-width="0.4"/>
<line x1="427.40" y1="92.85" x2="427.40" y2="91.94999999999999" stroke="#666" stroke-width="0.4"/>
<line x1="430.60" y1="92.85" x2="430.60" y2="91.94999999999999" stroke="#666" stroke-width="0.4"/>
<circle cx="353.70" cy="87.00" r="1.35" fill="#10a8f8"/>
<circle cx="369.80" cy="81.72" r="1.35" fill="#10a8f8"/>
<circle cx="385.80" cy="65.00" r="1.35" fill="#10a8f8"/>
<circle cx="401.80" cy="47.40" r="1.35" fill="#10a8f8"/>
<circle cx="417.80" cy="37.50" r="1.35" fill="#10a8f8"/>
<circle cx="433.80" cy="21.00" r="1.35" fill="#10a8f8"/>
<circle cx="353.70" cy="87.00" r="1.35" fill="#7c6a00"/>
<circle cx="369.80" cy="84.25" r="1.35" fill="#7c6a00"/>
<circle cx="385.80" cy="70.50" r="1.35" fill="#7c6a00"/>
<circle cx="401.80" cy="51.25" r="1.35" fill="#7c6a00"/>
<circle cx="417.80" cy="43.00" r="1.35" fill="#7c6a00"/>
<circle cx="433.80" cy="27.05" r="1.35" fill="#7c6a00"/>
<circle cx="351" cy="19.2" r="1.2" fill="#10a8f8"/><circle cx="351" cy="25.1" r="1.2" fill="#7c6a00"/>
<text x="357.7" y="20.75" font-size="4.9" fill="#111" font-family="Liberation Serif, serif" textLength="29.3" lengthAdjust="spacingAndGlyphs">Output location</text>
<text x="357.7" y="26.65" font-size="4.9" fill="#111" font-family="Liberation Serif, serif" textLength="24.3" lengthAdjust="spacingAndGlyphs">Plate surface</text>
<text transform="translate(337.0,54) rotate(-90)" text-anchor="middle" font-size="5.6" fill="#111" font-family="Liberation Serif, serif" textLength="56.7" lengthAdjust="spacingAndGlyphs">Shielding gas speed (m/s)</text>
<text x="393.2" y="105.4" text-anchor="middle" font-size="6.6" fill="#111" font-family="Liberation Serif, serif" textLength="71.7" lengthAdjust="spacingAndGlyphs">Shielding gas flow (L/min)</text>
<rect x="346.6" y="118.9" width="96.2" height="77.9" fill="#fff" stroke="#666" stroke-width="0.6"/>
<line x1="346.6" y1="191.40" x2="348.20000000000005" y2="191.40" stroke="#444" stroke-width="0.5"/>
<text x="345.00" y="193.15" font-size="5.3" text-anchor="end" fill="#000" font-family="Liberation Serif, serif">0</text>
<line x1="346.6" y1="181.62" x2="348.20000000000005" y2="181.62" stroke="#444" stroke-width="0.5"/>
<text x="345.00" y="183.38" font-size="5.3" text-anchor="end" fill="#000" font-family="Liberation Serif, serif">50</text>
<line x1="346.6" y1="171.85" x2="348.20000000000005" y2="171.85" stroke="#444" stroke-width="0.5"/>
<text x="345.00" y="173.60" font-size="5.3" text-anchor="end" fill="#000" font-family="Liberation Serif, serif">100</text>
<line x1="346.6" y1="162.07" x2="348.20000000000005" y2="162.07" stroke="#444" stroke-width="0.5"/>
<text x="345.00" y="163.82" font-size="5.3" text-anchor="end" fill="#000" font-family="Liberation Serif, serif">150</text>
<line x1="346.6" y1="152.30" x2="348.20000000000005" y2="152.30" stroke="#444" stroke-width="0.5"/>
<text x="345.00" y="154.05" font-size="5.3" text-anchor="end" fill="#000" font-family="Liberation Serif, serif">200</text>
<line x1="346.6" y1="142.53" x2="348.20000000000005" y2="142.53" stroke="#444" stroke-width="0.5"/>
<text x="345.00" y="144.28" font-size="5.3" text-anchor="end" fill="#000" font-family="Liberation Serif, serif">250</text>
<line x1="346.6" y1="132.75" x2="348.20000000000005" y2="132.75" stroke="#444" stroke-width="0.5"/>
<text x="345.00" y="134.50" font-size="5.3" text-anchor="end" fill="#000" font-family="Liberation Serif, serif">300</text>
<line x1="346.6" y1="122.98" x2="348.20000000000005" y2="122.98" stroke="#444" stroke-width="0.5"/>
<text x="345.00" y="124.73" font-size="5.3" text-anchor="end" fill="#000" font-family="Liberation Serif, serif">350</text>
<line x1="346.6" y1="186.51" x2="347.5" y2="186.51" stroke="#666" stroke-width="0.4"/>
<line x1="346.6" y1="176.74" x2="347.5" y2="176.74" stroke="#666" stroke-width="0.4"/>
<line x1="346.6" y1="166.96" x2="347.5" y2="166.96" stroke="#666" stroke-width="0.4"/>
<line x1="346.6" y1="157.19" x2="347.5" y2="157.19" stroke="#666" stroke-width="0.4"/>
<line x1="346.6" y1="147.41" x2="347.5" y2="147.41" stroke="#666" stroke-width="0.4"/>
<line x1="346.6" y1="137.64" x2="347.5" y2="137.64" stroke="#666" stroke-width="0.4"/>
<line x1="346.6" y1="127.86" x2="347.5" y2="127.86" stroke="#666" stroke-width="0.4"/>
<line x1="354.30" y1="196.8" x2="354.30" y2="195.20000000000002" stroke="#444" stroke-width="0.5"/>
<text x="354.30" y="202.00" font-size="5.3" text-anchor="middle" fill="#000" font-family="Liberation Serif, serif">0</text>
<line x1="370.40" y1="196.8" x2="370.40" y2="195.20000000000002" stroke="#444" stroke-width="0.5"/>
<text x="370.40" y="202.00" font-size="5.3" text-anchor="middle" fill="#000" font-family="Liberation Serif, serif">5</text>
<line x1="386.50" y1="196.8" x2="386.50" y2="195.20000000000002" stroke="#444" stroke-width="0.5"/>
<text x="386.50" y="202.00" font-size="5.3" text-anchor="middle" fill="#000" font-family="Liberation Serif, serif">10</text>
<line x1="402.50" y1="196.8" x2="402.50" y2="195.20000000000002" stroke="#444" stroke-width="0.5"/>
<text x="402.50" y="202.00" font-size="5.3" text-anchor="middle" fill="#000" font-family="Liberation Serif, serif">15</text>
<line x1="418.60" y1="196.8" x2="418.60" y2="195.20000000000002" stroke="#444" stroke-width="0.5"/>
<text x="418.60" y="202.00" font-size="5.3" text-anchor="middle" fill="#000" font-family="Liberation Serif, serif">20</text>
<line x1="434.70" y1="196.8" x2="434.70" y2="195.20000000000002" stroke="#444" stroke-width="0.5"/>
<text x="434.70" y="202.00" font-size="5.3" text-anchor="middle" fill="#000" font-family="Liberation Serif, serif">25</text>
<line x1="357.52" y1="196.8" x2="357.52" y2="195.9" stroke="#666" stroke-width="0.4"/>
<line x1="360.74" y1="196.8" x2="360.74" y2="195.9" stroke="#666" stroke-width="0.4"/>
<line x1="363.96" y1="196.8" x2="363.96" y2="195.9" stroke="#666" stroke-width="0.4"/>
<line x1="367.18" y1="196.8" x2="367.18" y2="195.9" stroke="#666" stroke-width="0.4"/>
<line x1="373.62" y1="196.8" x2="373.62" y2="195.9" stroke="#666" stroke-width="0.4"/>
<line x1="376.84" y1="196.8" x2="376.84" y2="195.9" stroke="#666" stroke-width="0.4"/>
<line x1="380.06" y1="196.8" x2="380.06" y2="195.9" stroke="#666" stroke-width="0.4"/>
<line x1="383.28" y1="196.8" x2="383.28" y2="195.9" stroke="#666" stroke-width="0.4"/>
<line x1="389.70" y1="196.8" x2="389.70" y2="195.9" stroke="#666" stroke-width="0.4"/>
<line x1="392.90" y1="196.8" x2="392.90" y2="195.9" stroke="#666" stroke-width="0.4"/>
<line x1="396.10" y1="196.8" x2="396.10" y2="195.9" stroke="#666" stroke-width="0.4"/>
<line x1="399.30" y1="196.8" x2="399.30" y2="195.9" stroke="#666" stroke-width="0.4"/>
<line x1="405.72" y1="196.8" x2="405.72" y2="195.9" stroke="#666" stroke-width="0.4"/>
<line x1="408.94" y1="196.8" x2="408.94" y2="195.9" stroke="#666" stroke-width="0.4"/>
<line x1="412.16" y1="196.8" x2="412.16" y2="195.9" stroke="#666" stroke-width="0.4"/>
<line x1="415.38" y1="196.8" x2="415.38" y2="195.9" stroke="#666" stroke-width="0.4"/>
<line x1="421.82" y1="196.8" x2="421.82" y2="195.9" stroke="#666" stroke-width="0.4"/>
<line x1="425.04" y1="196.8" x2="425.04" y2="195.9" stroke="#666" stroke-width="0.4"/>
<line x1="428.26" y1="196.8" x2="428.26" y2="195.9" stroke="#666" stroke-width="0.4"/>
<line x1="431.48" y1="196.8" x2="431.48" y2="195.9" stroke="#666" stroke-width="0.4"/>
<circle cx="354.30" cy="191.40" r="1.35" fill="#10a8f8"/>
<circle cx="370.40" cy="184.17" r="1.35" fill="#10a8f8"/>
<circle cx="386.50" cy="177.91" r="1.35" fill="#10a8f8"/>
<circle cx="402.50" cy="164.62" r="1.35" fill="#10a8f8"/>
<circle cx="418.60" cy="142.92" r="1.35" fill="#10a8f8"/>
<circle cx="434.70" cy="127.28" r="1.35" fill="#10a8f8"/>
<circle cx="354.30" cy="191.40" r="1.35" fill="#7c6a00"/>
<circle cx="370.40" cy="186.51" r="1.35" fill="#7c6a00"/>
<circle cx="386.50" cy="181.82" r="1.35" fill="#7c6a00"/>
<circle cx="402.50" cy="168.14" r="1.35" fill="#7c6a00"/>
<circle cx="418.60" cy="146.83" r="1.35" fill="#7c6a00"/>
<circle cx="434.70" cy="133.14" r="1.35" fill="#7c6a00"/>
<circle cx="350.2" cy="122.5" r="1.2" fill="#10a8f8"/><circle cx="350.2" cy="128.5" r="1.2" fill="#7c6a00"/>
<text x="355.0" y="124.05" font-size="4.9" fill="#111" font-family="Liberation Serif, serif" textLength="29.8" lengthAdjust="spacingAndGlyphs">Output location</text>
<text x="355.0" y="130.05" font-size="4.9" fill="#111" font-family="Liberation Serif, serif" textLength="24.2" lengthAdjust="spacingAndGlyphs">Plate surface</text>
<text transform="translate(335.5,158.3) rotate(-90)" text-anchor="middle" font-size="5.3" fill="#111" font-family="Liberation Serif, serif" textLength="27.2" lengthAdjust="spacingAndGlyphs">Pressure (Pa)</text>
<text x="394.7" y="211.1" text-anchor="middle" font-size="5.5" fill="#111" font-family="Liberation Serif, serif" textLength="60.0" lengthAdjust="spacingAndGlyphs">Shielding gas flow (L/min)</text>
</svg></body></html>
